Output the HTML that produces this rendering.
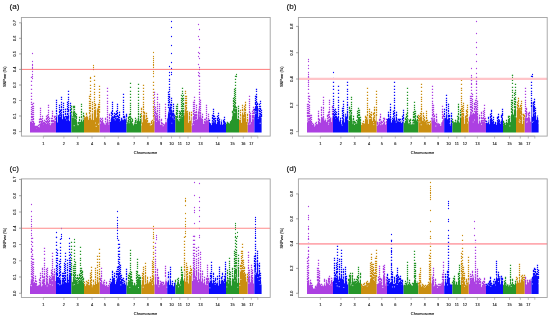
<!DOCTYPE html>
<html lang="en"><head><meta charset="utf-8"><title>Manhattan plots</title>
<style>html,body{margin:0;padding:0;background:#fff;overflow:hidden}svg{display:block}.t{font-family:"Liberation Sans",sans-serif;font-size:39px;fill:#111;stroke:#222;stroke-width:1.2px}.pl{font-family:"Liberation Sans",sans-serif;font-size:81px;fill:#111;stroke:#111;stroke-width:1.5px}</style></head>
<body>
<svg width="550" height="320" viewBox="0 0 550 320">
<rect width="550" height="320" fill="#fff"/>
<g>
<path d="M30,132.5V120.8H30.5V119.8H31V121.8H31.5V120.1H32V121H32.5V120H33V121H33.5V122.1H34V123.6H34.5V124.1H35V127.1H35.5V127.1H36V126.8H36.5V128.3H37V127.1H37.5V127.1H38V127.6H38.5V127.8H39V127.5H39.5V125H40V123.5H40.5V121.9H41V121.1H41.5V121.8H42V121.7H42.5V122.5H43V123H43.5V124.2H44V123.8H44.5V124.1H45V123.4H45.5V123.9H46V123.5H46.5V125H47V121.8H47.5V122.5H48V123.3H48.5V123.2H49V124.2H49.5V123.7H50V122.6H50.5V123.1H51V123.6H51.5V122.5H52V122.4H52.5V122.5H53V122.5H53.5V122.6H54V121.1H54.5V118.6H55V120.7H55.5V120.6H56V132.5ZM99.6,132.5V119.2H100.1V122.4H100.59V122.2H101.09V120.9H101.58V120.5H102.08V119.6H102.57V119.5H103.07V119.7H103.56V121.9H104.06V123.2H104.55V124.4H105.05V124.8H105.54V121.7H106.04V120.7H106.53V118.4H107.03V119.2H107.52V120H108.02V120.6H108.51V119.6H109.01V122.1H109.5V121.1H110V132.5ZM154.4,132.5V116.3H154.89V115.6H155.38V114.7H155.88V116.1H156.37V115.3H156.86V114.6H157.35V115.7H157.85V115H158.34V117.7H158.83V117.8H159.32V119.8H159.82V120.1H160.31V124.1H160.8V124.5H161.29V124.5H161.78V124.1H162.28V124.5H162.77V126.5H163.26V125.4H163.75V124.8H164.25V124.3H164.74V122.8H165.23V122H165.72V118.8H166.22V120H166.71V118.2H167.2V132.5ZM191.6,132.5V118.2H192.1V116.2H192.59V117H193.09V115.9H193.59V115.7H194.09V115.3H194.58V116.1H195.08V115.1H195.58V116.4H196.07V113.7H196.57V116.6H197.07V114.2H197.57V111.9H198.06V111.1H198.56V108.5H199.06V107.8H199.55V110.2H200.05V113.2H200.55V115.7H201.05V115.2H201.54V116.1H202.04V118.8H202.54V118.6H203.03V120.5H203.53V122.4H204.03V122.1H204.53V123.4H205.02V121.6H205.52V120H206.02V120.3H206.51V119.3H207.01V118.3H207.51V119H208.01V118.3H208.5V120.8H209V132.5ZM247.6,132.5V119.8H248.09V119.5H248.57V118H249.06V114.9H249.54V115.1H250.03V115.5H250.51V117.3H251V117H251.49V118.3H251.97V116.6H252.46V118.5H252.94V116.1H253.43V116.2H253.91V114.8H254.4V132.5Z" fill="#ac40e2"/>
<path d="M56,132.5V116.7H56.5V114.2H56.99V114.8H57.49V113.6H57.99V114.7H58.48V115.3H58.98V114.2H59.48V113.2H59.97V114.6H60.47V113.8H60.97V114.2H61.46V113.1H61.96V113.6H62.46V113.9H62.95V114.5H63.45V114.8H63.95V116.2H64.45V116.7H64.94V119H65.44V117H65.94V116.2H66.43V117.1H66.93V116H67.43V115.4H67.92V115.2H68.42V112.6H68.92V113.6H69.41V115.4H69.91V113.9H70.41V114.3H70.9V114.4H71.4V132.5ZM110,132.5V119.1H110.5V119.6H111.01V117.6H111.51V116.1H112.01V116.3H112.52V115.7H113.02V115.8H113.52V118.4H114.02V118.5H114.53V118.5H115.03V117.6H115.53V117H116.04V118.5H116.54V117H117.04V117.9H117.55V117.7H118.05V117.6H118.55V118.5H119.05V118.8H119.56V121.2H120.06V119.8H120.56V119.3H121.07V117.9H121.57V119.1H122.07V119H122.58V118.4H123.08V119.2H123.58V118.6H124.08V118.9H124.59V118.1H125.09V117.3H125.59V116.8H126.1V117.6H126.6V132.5ZM167.2,132.5V116.6H167.71V113.8H168.22V111.8H168.74V108.1H169.25V103.2H169.76V106.9H170.27V104.8H170.79V106.2H171.3V108.2H171.81V109.7H172.32V111.4H172.84V111.5H173.35V115.3H173.86V113.4H174.38V116.2H174.89V116.9H175.4V132.5ZM209,132.5V122.5H209.5V121.5H210V123H210.5V123.6H211V121.4H211.5V121.5H212V120.6H212.5V120.9H213V120.6H213.5V120.5H214V119H214.5V119.1H215V121.6H215.5V122.2H216V122.3H216.5V122.4H217V121.6H217.5V121.6H218V120H218.5V119.6H219V120.1H219.5V120.5H220V120.7H220.5V121.1H221V119.6H221.5V121.8H222V122.2H222.5V123.4H223V120.8H223.5V122.1H224V120.7H224.5V121.7H225V122H225.5V124.2H226V132.5ZM254.4,132.5V109.8H254.91V106.2H255.43V105.7H255.94V105H256.46V105H256.97V106.4H257.49V107H258V108.2H258.51V112.5H259.03V115.5H259.54V113.7H260.06V114.3H260.57V117.3H261.09V117.6H261.6V132.5Z" fill="#0a0afc"/>
<path d="M71.4,132.5V113.4H71.9V112.3H72.41V111.6H72.91V111.8H73.42V108.5H73.92V111.6H74.42V113.3H74.93V114.3H75.43V117.2H75.94V119H76.44V119.7H76.94V121.9H77.45V125.2H77.95V125.3H78.46V124.2H78.96V123.3H79.46V123.1H79.97V121.7H80.47V119.3H80.98V120.1H81.48V118.5H81.98V117.3H82.49V118H82.99V119.9H83.5V117.3H84V132.5ZM126.6,132.5V119.5H127.09V120H127.59V120.3H128.08V119.1H128.57V120.7H129.07V121.5H129.56V120.2H130.05V117H130.55V118.6H131.04V119.8H131.53V119.5H132.03V123.6H132.52V122.6H133.01V123.4H133.51V123.6H134V122.1H134.49V123.7H134.99V123.2H135.48V123.6H135.97V122.4H136.47V119.2H136.96V118.3H137.45V117.5H137.95V117.4H138.44V116.8H138.93V117.7H139.43V119H139.92V120.2H140.41V119.8H140.91V119.9H141.4V132.5ZM175.4,132.5V117.5H175.91V116.1H176.41V115.7H176.92V115.7H177.42V113.9H177.93V115.7H178.44V116.7H178.94V119.1H179.45V118.6H179.95V116.6H180.46V115.7H180.96V115.1H181.47V114H181.98V110.2H182.48V109.1H182.99V111.8H183.49V114.1H184V132.5ZM226,132.5V124H226.5V121.7H227V122.5H227.5V123.1H228V123.2H228.5V124H229V122.7H229.5V121.2H230V121.3H230.5V121H231V119.9H231.5V116.8H232V116.2H232.5V113.1H233V108.3H233.5V107.1H234V105.4H234.5V104.9H235V105.4H235.5V104.3H236V108.3H236.5V109.8H237V112.8H237.5V111.6H238V113.5H238.5V114.1H239V132.5Z" fill="#26962a"/>
<path d="M84,132.5V116.9H84.5V117.4H85.01V117.3H85.51V117H86.01V116.2H86.52V115.3H87.02V117.1H87.52V115.6H88.03V116.8H88.53V116.6H89.03V115.7H89.54V114.3H90.04V115.3H90.54V112.7H91.05V112.5H91.55V113.2H92.05V113.5H92.55V111.9H93.06V112.1H93.56V112.3H94.06V110.5H94.57V110.8H95.07V109.4H95.57V107.8H96.08V110.2H96.58V108.2H97.08V108H97.59V109.4H98.09V107.3H98.59V110.1H99.1V113.4H99.6V132.5ZM141.4,132.5V117.4H141.9V118.5H142.4V116H142.9V113.7H143.4V113.4H143.9V114.4H144.4V114.4H144.9V113.3H145.4V115H145.9V117.2H146.4V118.8H146.9V121.6H147.4V124.1H147.9V123.4H148.4V124H148.9V123.9H149.4V124.1H149.9V125.8H150.4V123H150.9V125.2H151.4V124.7H151.9V124.2H152.4V121.5H152.9V121.3H153.4V117.3H153.9V116.4H154.4V132.5ZM184,132.5V109.1H184.51V106.1H185.01V106H185.52V107.6H186.03V107.2H186.53V109.2H187.04V111.4H187.55V113.8H188.05V115.2H188.56V114.5H189.07V115.3H189.57V115.7H190.08V115.4H190.59V115.2H191.09V116.3H191.6V132.5ZM239,132.5V117H239.51V117.1H240.01V118.2H240.52V116.1H241.02V115.2H241.53V114.7H242.04V112.8H242.54V111.4H243.05V109.7H243.55V110H244.06V110.2H244.56V110.5H245.07V114H245.58V112.9H246.08V117.4H246.59V118.5H247.09V121.1H247.6V132.5Z" fill="#ca8e10"/>
<path d="M30.5,118.3V121.8M32.5,122.2v.7M34.8,124.7v.7M50.5,121.6V125.2M57.5,112.1V122.5M60.2,115.8v1.1M62.5,112.4V119.2M66.8,119.6v.9M68.8,118.8v.7M69.5,113.9V121.1M72.5,110.1V116.2M72.2,116.8v1.1M73.8,116.8v.9M74.2,125.1v1.1M75.2,117.8v1.1M80.5,117.8V121.9M82.5,116.5V121.5M88.5,115.1V119.8M89.2,116.9v.7M90.5,116.7v.9M91.5,111.7V119.7M93.5,110.8V120.1M95.5,122.6v.9M96.5,106.7V117.6M96.8,115.1v.9M96.2,125.9v1.1M98.2,112v.7M98.5,123.7v1.1M99.8,117.1v.7M100.2,122.8v.9M103.5,120.4V122.7M106.5,116.9V122.8M106.8,120.8v.7M108.5,118.1V122.5M108.8,123.5v1.1M110.5,118.1V122M115.2,119.3v1.1M120.5,117.8V121.1M122.8,119v.7M123.2,119.2v.9M125.5,115.3V119.4M126.8,123v.7M127.5,118.8V122.3M129.2,122.2v1.1M131.5,120.1v1.1M133.5,122.1V125.3M136.5,123v.9M137.5,116V119.9M137.5,119.8v1.1M139.5,117.5V121.2M141.5,124.3v1.1M142.5,114.5V122.4M143.2,114v1.1M145.5,113.5V119.2M145.2,118.4v.7M154.2,120v.9M156.5,117.4v.7M156.5,120.9v.9M158.5,116.2V120.2M159.2,120.4v.7M160.5,122.6V124.8M164.5,121.3V123.8M166.5,116.7V122.3M167.5,112.3V118.4M168.2,108.7v1.1M169.5,103.8v.9M169.5,105.8v.9M169.8,111.7v.7M170.5,115.6v.7M171.2,108.8v.7M171.8,122.8v.7M172.8,112v.9M172.8,116.4v1.1M173.2,117.6v.7M174.2,118.8v.7M177.5,117.9v1.1M178.5,115.2V120.5M179.2,120.4v.9M180.8,117.7v.7M182.2,116.2v.7M184.5,104.6V113.6M184.2,114.3v1.1M185.2,108.2v.9M186.5,109.8v.9M188.5,113V122.8M189.2,119.9v1.1M190.5,113.7V120.7M190.8,115.8v.9M191.8,124.7v.9M192.5,115.5V123.4M192.5,120.2v.7M193.2,124v.9M194.2,119.9v1.1M196.2,119.1v.9M197.5,110.4V119.3M199.2,110.8v1.1M199.2,113.6v1.1M199.8,115.5v.9M201.5,114.6V118.3M203.5,120.9V123.9M207.5,117.5V120.6M211.5,120V125.1M211.8,122.1v.7M212.8,121.5v.9M214.8,119.7v.9M214.5,121.5v.7M216.5,120.9V124.1M220.5,119.6V124.6M222.5,121.9V124.9M223.2,122.7v1.1M226.5,120.2V123.5M229.5,119.7V123.6M231.5,115.3V119M231.2,117.4v.7M231.2,118.8v.9M233.8,111.3v1.1M234.8,111.9v1.1M235.2,108v1.1M237.5,110.1V118.9M238.5,114.7v1.1M238.5,117.9v.9M239.5,115.6V120M239.5,117.7v.9M240.5,119.3v.7M241.5,113.2V122.4M241.5,121.8v.9M243.5,108.5V114.7M244.5,111.1v1.1M244.2,117.2v.9M246.5,117V121.7M246.5,120.8v.7M247.8,123.7v.9M248.5,116.5V122.6M249.8,123.5v1.1M250.5,122.6v.9M251.5,116.8V121.4M251.5,120.9v.9M253.2,118.2v1.1M254.5,114v1.1M254.5,115.7v.7M255.8,111v1.1M255.8,112.8v.9M258.5,111V117.2M258.2,117.9v.9M260.2,122.8v1.1" stroke="#fff" stroke-width="0.72" fill="none"/>
<path d="M32.5,53.5h0M32.5,61.5h0M32.5,64.5h0M32.5,65.5h0M32.5,67.5h0M32.5,68.5h0M32.5,71.5h0M32.5,74.5h0M32.5,76.5h0M32.5,78.5h0M198.5,24.5h0M198.5,36.5h0M198.5,52.5h0M198.5,56.5h0M198.5,64.5h0M198.5,72.5h0M198.5,75.5h0M199.5,29.5h0M199.5,39.5h0M199.5,47.5h0M199.5,53.5h0M199.5,58.5h0M199.5,67.5h0M199.5,69.5h0M199.5,73.5h0M199.5,76.5h0" stroke="#ac40e2" stroke-width="1.28" stroke-linecap="round" fill="none"/>
<path d="M31.5,120v-1.35M31.5,118v-1.35M31.5,117v-1.35M31.5,115v-1.35M31.5,114v-1.35M31.5,112v-1.35M31.5,110v-1.35M31.5,108v-1.35M31.5,105v-1.35M31.5,103v-1.35M31.5,100v-1.35M31.5,97v-1.35M31.5,94v-1.35M31.5,90v-1.35M31.5,86v-1.35M31.5,82v-1.35M31.5,78v-1.35M32.5,120v-1.35M32.5,118v-1.35M32.5,117v-1.35M32.5,115v-1.35M32.5,113v-1.35M32.5,111v-1.35M32.5,109v-1.35M32.5,107v-1.35M32.5,105v-1.35M33.5,122v-1.35M33.5,120v-1.35M33.5,119v-1.35M33.5,117v-1.35M33.5,115v-1.35M33.5,113v-1.35M33.5,111v-1.35M33.5,109v-1.35M33.5,107v-1.35M33.5,104v-1.35M34.5,124v-1.35M35.5,127v-1.35M36.5,128v-1.35M36.5,127v-1.35M37.5,127v-1.35M38.5,128v-1.35M38.5,126v-1.35M39.5,125v-1.35M39.5,123v-1.35M39.5,122v-1.35M39.5,120v-1.35M40.5,122v-1.35M40.5,120v-1.35M40.5,119v-1.35M40.5,117v-1.35M40.5,115v-1.35M40.5,113v-1.35M40.5,111v-1.35M40.5,109v-1.35M41.5,122v-1.35M41.5,120v-1.35M42.5,122v-1.35M42.5,121v-1.35M42.5,119v-1.35M42.5,117v-1.35M43.5,124v-1.35M43.5,123v-1.35M44.5,124v-1.35M44.5,123v-1.35M44.5,121v-1.35M45.5,124v-1.35M45.5,122v-1.35M46.5,125v-1.35M46.5,123v-1.35M46.5,122v-1.35M46.5,120v-1.35M46.5,119v-1.35M46.5,117v-1.35M47.5,122v-1.35M47.5,121v-1.35M47.5,119v-1.35M47.5,118v-1.35M47.5,116v-1.35M48.5,123v-1.35M48.5,122v-1.35M48.5,120v-1.35M48.5,118v-1.35M48.5,117v-1.35M48.5,115v-1.35M48.5,113v-1.35M48.5,111v-1.35M48.5,108v-1.35M48.5,106v-1.35M49.5,124v-1.35M49.5,122v-1.35M49.5,121v-1.35M49.5,119v-1.35M51.5,122v-1.35M51.5,121v-1.35M51.5,119v-1.35M52.5,122v-1.35M52.5,121v-1.35M52.5,119v-1.35M52.5,117v-1.35M52.5,116v-1.35M52.5,114v-1.35M52.5,112v-1.35M53.5,122v-1.35M53.5,121v-1.35M54.5,118v-1.35M54.5,117v-1.35M55.5,120v-1.35M55.5,119v-1.35M55.5,117v-1.35M100.5,122v-1.35M100.5,121v-1.35M100.5,119v-1.35M101.5,120v-1.35M102.5,119v-1.35M105.5,122v-1.35M105.5,120v-1.35M105.5,119v-1.35M107.5,120v-1.35M107.5,118v-1.35M107.5,117v-1.35M107.5,115v-1.35M107.5,113v-1.35M107.5,111v-1.35M107.5,109v-1.35M107.5,107v-1.35M107.5,104v-1.35M107.5,102v-1.35M107.5,99v-1.35M107.5,96v-1.35M107.5,92v-1.35M107.5,89v-1.35M109.5,121v-1.35M109.5,119v-1.35M109.5,118v-1.35M109.5,116v-1.35M109.5,115v-1.35M154.5,116v-1.35M154.5,115v-1.35M154.5,113v-1.35M154.5,111v-1.35M154.5,109v-1.35M154.5,107v-1.35M154.5,105v-1.35M154.5,103v-1.35M154.5,101v-1.35M154.5,98v-1.35M154.5,95v-1.35M154.5,93v-1.35M155.5,114v-1.35M155.5,113v-1.35M155.5,112v-1.35M155.5,110v-1.35M155.5,108v-1.35M156.5,115v-1.35M156.5,114v-1.35M157.5,116v-1.35M157.5,114v-1.35M157.5,112v-1.35M157.5,111v-1.35M157.5,109v-1.35M157.5,107v-1.35M157.5,105v-1.35M157.5,103v-1.35M157.5,100v-1.35M157.5,98v-1.35M157.5,95v-1.35M159.5,120v-1.35M159.5,118v-1.35M159.5,117v-1.35M159.5,115v-1.35M159.5,113v-1.35M159.5,111v-1.35M159.5,109v-1.35M159.5,107v-1.35M159.5,105v-1.35M161.5,124v-1.35M161.5,123v-1.35M161.5,121v-1.35M161.5,120v-1.35M162.5,124v-1.35M163.5,125v-1.35M165.5,119v-1.35M165.5,117v-1.35M165.5,116v-1.35M165.5,114v-1.35M165.5,112v-1.35M165.5,110v-1.35M165.5,108v-1.35M165.5,105v-1.35M193.5,115v-1.35M193.5,114v-1.35M193.5,112v-1.35M193.5,111v-1.35M193.5,109v-1.35M193.5,107v-1.35M193.5,105v-1.35M193.5,103v-1.35M194.5,116v-1.35M194.5,115v-1.35M194.5,113v-1.35M194.5,111v-1.35M194.5,109v-1.35M194.5,107v-1.35M194.5,105v-1.35M194.5,103v-1.35M194.5,101v-1.35M194.5,98v-1.35M195.5,116v-1.35M195.5,115v-1.35M195.5,113v-1.35M196.5,116v-1.35M196.5,115v-1.35M196.5,113v-1.35M196.5,112v-1.35M196.5,110v-1.35M196.5,108v-1.35M196.5,106v-1.35M199.5,110v-1.35M199.5,108v-1.35M199.5,107v-1.35M199.5,105v-1.35M199.5,104v-1.35M199.5,102v-1.35M199.5,100v-1.35M199.5,98v-1.35M199.5,95v-1.35M199.5,93v-1.35M199.5,90v-1.35M199.5,87v-1.35M199.5,84v-1.35M199.5,81v-1.35M199.5,77v-1.35M200.5,116v-1.35M200.5,114v-1.35M200.5,113v-1.35M200.5,111v-1.35M200.5,109v-1.35M200.5,107v-1.35M200.5,105v-1.35M200.5,103v-1.35M200.5,101v-1.35M202.5,118v-1.35M202.5,117v-1.35M202.5,115v-1.35M204.5,123v-1.35M204.5,122v-1.35M204.5,120v-1.35M205.5,120v-1.35M206.5,119v-1.35M206.5,118v-1.35M206.5,116v-1.35M206.5,114v-1.35M206.5,112v-1.35M206.5,110v-1.35M206.5,108v-1.35M206.5,106v-1.35M208.5,121v-1.35M208.5,119v-1.35M208.5,117v-1.35M208.5,115v-1.35M249.5,115v-1.35M249.5,113v-1.35M249.5,112v-1.35M249.5,110v-1.35M249.5,108v-1.35M249.5,106v-1.35M249.5,104v-1.35M249.5,102v-1.35M249.5,100v-1.35M249.5,97v-1.35M250.5,117v-1.35M250.5,116v-1.35M250.5,114v-1.35M252.5,118v-1.35M252.5,117v-1.35M252.5,116v-1.35M252.5,114v-1.35M252.5,112v-1.35M253.5,116v-1.35M253.5,114v-1.35M253.5,113v-1.35M253.5,111v-1.35M253.5,110v-1.35M253.5,108v-1.35" stroke="#ac40e2" stroke-width="1.25" fill="none"/>
<path d="M171.5,21.5h0M171.5,27.5h0M171.5,36.5h0M171.5,45.5h0M171.5,53.5h0M171.5,62.5h0M171.5,68.5h0M171.5,72.5h0M171.5,74.5h0M169.5,66.5h0M169.5,72.5h0M169.5,75.5h0" stroke="#0a0afc" stroke-width="1.28" stroke-linecap="round" fill="none"/>
<path d="M56.5,114v-1.35M56.5,112v-1.35M56.5,111v-1.35M56.5,109v-1.35M56.5,107v-1.35M56.5,105v-1.35M56.5,103v-1.35M56.5,101v-1.35M59.5,113v-1.35M59.5,112v-1.35M59.5,110v-1.35M59.5,108v-1.35M59.5,106v-1.35M60.5,114v-1.35M60.5,112v-1.35M60.5,111v-1.35M61.5,113v-1.35M61.5,111v-1.35M61.5,110v-1.35M61.5,108v-1.35M61.5,107v-1.35M61.5,105v-1.35M61.5,103v-1.35M61.5,100v-1.35M61.5,98v-1.35M63.5,115v-1.35M63.5,113v-1.35M63.5,112v-1.35M63.5,110v-1.35M63.5,108v-1.35M63.5,106v-1.35M63.5,104v-1.35M65.5,117v-1.35M65.5,115v-1.35M65.5,114v-1.35M65.5,112v-1.35M65.5,110v-1.35M66.5,117v-1.35M67.5,115v-1.35M67.5,114v-1.35M67.5,112v-1.35M67.5,110v-1.35M67.5,109v-1.35M67.5,107v-1.35M67.5,105v-1.35M67.5,103v-1.35M68.5,112v-1.35M68.5,111v-1.35M68.5,110v-1.35M68.5,108v-1.35M68.5,106v-1.35M68.5,104v-1.35M68.5,102v-1.35M68.5,100v-1.35M68.5,98v-1.35M68.5,95v-1.35M68.5,92v-1.35M70.5,114v-1.35M70.5,113v-1.35M70.5,111v-1.35M70.5,110v-1.35M70.5,108v-1.35M70.5,106v-1.35M70.5,104v-1.35M111.5,116v-1.35M111.5,114v-1.35M111.5,113v-1.35M112.5,115v-1.35M112.5,114v-1.35M112.5,112v-1.35M112.5,111v-1.35M112.5,109v-1.35M112.5,107v-1.35M112.5,105v-1.35M112.5,103v-1.35M113.5,118v-1.35M114.5,118v-1.35M114.5,117v-1.35M114.5,116v-1.35M114.5,114v-1.35M115.5,117v-1.35M115.5,115v-1.35M116.5,117v-1.35M116.5,115v-1.35M116.5,114v-1.35M116.5,112v-1.35M117.5,117v-1.35M117.5,116v-1.35M117.5,114v-1.35M117.5,113v-1.35M117.5,111v-1.35M117.5,109v-1.35M117.5,107v-1.35M117.5,105v-1.35M118.5,118v-1.35M118.5,117v-1.35M119.5,121v-1.35M119.5,120v-1.35M119.5,118v-1.35M119.5,116v-1.35M119.5,115v-1.35M119.5,113v-1.35M121.5,119v-1.35M123.5,118v-1.35M123.5,117v-1.35M123.5,115v-1.35M123.5,113v-1.35M123.5,112v-1.35M123.5,110v-1.35M123.5,108v-1.35M123.5,106v-1.35M123.5,103v-1.35M123.5,101v-1.35M123.5,98v-1.35M123.5,95v-1.35M124.5,118v-1.35M124.5,117v-1.35M126.5,117v-1.35M126.5,116v-1.35M126.5,115v-1.35M168.5,108v-1.35M168.5,106v-1.35M168.5,105v-1.35M168.5,103v-1.35M168.5,101v-1.35M168.5,99v-1.35M168.5,97v-1.35M168.5,95v-1.35M168.5,93v-1.35M169.5,103v-1.35M169.5,102v-1.35M169.5,100v-1.35M169.5,98v-1.35M169.5,97v-1.35M169.5,95v-1.35M169.5,92v-1.35M169.5,90v-1.35M169.5,88v-1.35M169.5,85v-1.35M169.5,82v-1.35M169.5,80v-1.35M170.5,105v-1.35M171.5,108v-1.35M171.5,106v-1.35M171.5,105v-1.35M171.5,103v-1.35M171.5,101v-1.35M171.5,99v-1.35M173.5,115v-1.35M173.5,114v-1.35M173.5,112v-1.35M173.5,111v-1.35M173.5,109v-1.35M173.5,107v-1.35M173.5,105v-1.35M174.5,116v-1.35M209.5,121v-1.35M212.5,121v-1.35M212.5,119v-1.35M212.5,118v-1.35M212.5,116v-1.35M213.5,120v-1.35M213.5,119v-1.35M213.5,117v-1.35M213.5,116v-1.35M213.5,114v-1.35M213.5,112v-1.35M213.5,110v-1.35M214.5,119v-1.35M214.5,117v-1.35M215.5,122v-1.35M215.5,121v-1.35M215.5,119v-1.35M217.5,121v-1.35M217.5,120v-1.35M217.5,119v-1.35M217.5,117v-1.35M218.5,119v-1.35M218.5,118v-1.35M218.5,116v-1.35M218.5,114v-1.35M219.5,120v-1.35M223.5,122v-1.35M223.5,121v-1.35M224.5,122v-1.35M224.5,120v-1.35M224.5,118v-1.35M225.5,124v-1.35M254.5,110v-1.35M255.5,105v-1.35M255.5,104v-1.35M255.5,103v-1.35M255.5,101v-1.35M255.5,99v-1.35M255.5,97v-1.35M256.5,105v-1.35M256.5,103v-1.35M256.5,102v-1.35M256.5,100v-1.35M256.5,98v-1.35M256.5,97v-1.35M256.5,95v-1.35M256.5,92v-1.35M256.5,90v-1.35M257.5,107v-1.35M257.5,105v-1.35M257.5,104v-1.35M259.5,114v-1.35M259.5,112v-1.35M259.5,111v-1.35M259.5,109v-1.35M259.5,107v-1.35M259.5,105v-1.35M260.5,117v-1.35M260.5,115v-1.35M260.5,114v-1.35M260.5,112v-1.35M260.5,110v-1.35M260.5,109v-1.35M260.5,107v-1.35M260.5,104v-1.35M260.5,102v-1.35M261.5,117v-1.35M261.5,116v-1.35M261.5,115v-1.35M261.5,113v-1.35M261.5,111v-1.35" stroke="#0a0afc" stroke-width="1.25" fill="none"/>
<path d="M236.5,74.5h0M236.5,76.5h0" stroke="#26962a" stroke-width="1.28" stroke-linecap="round" fill="none"/>
<path d="M71.5,113v-1.35M71.5,112v-1.35M71.5,110v-1.35M71.5,109v-1.35M71.5,107v-1.35M73.5,108v-1.35M73.5,107v-1.35M74.5,113v-1.35M74.5,112v-1.35M74.5,110v-1.35M74.5,108v-1.35M74.5,107v-1.35M75.5,117v-1.35M75.5,116v-1.35M75.5,114v-1.35M76.5,119v-1.35M76.5,118v-1.35M76.5,117v-1.35M76.5,115v-1.35M78.5,124v-1.35M78.5,123v-1.35M79.5,123v-1.35M79.5,121v-1.35M79.5,120v-1.35M79.5,118v-1.35M81.5,118v-1.35M81.5,117v-1.35M81.5,115v-1.35M81.5,113v-1.35M81.5,112v-1.35M81.5,110v-1.35M81.5,107v-1.35M81.5,105v-1.35M83.5,117v-1.35M83.5,116v-1.35M83.5,114v-1.35M128.5,121v-1.35M128.5,119v-1.35M128.5,118v-1.35M129.5,120v-1.35M129.5,118v-1.35M129.5,117v-1.35M129.5,115v-1.35M130.5,118v-1.35M130.5,117v-1.35M130.5,115v-1.35M130.5,114v-1.35M130.5,112v-1.35M130.5,110v-1.35M130.5,108v-1.35M130.5,106v-1.35M130.5,104v-1.35M130.5,101v-1.35M130.5,98v-1.35M130.5,95v-1.35M130.5,92v-1.35M130.5,88v-1.35M130.5,84v-1.35M131.5,119v-1.35M132.5,122v-1.35M132.5,121v-1.35M132.5,120v-1.35M135.5,123v-1.35M135.5,122v-1.35M135.5,121v-1.35M135.5,119v-1.35M138.5,117v-1.35M138.5,115v-1.35M138.5,114v-1.35M138.5,112v-1.35M138.5,110v-1.35M138.5,108v-1.35M138.5,106v-1.35M138.5,104v-1.35M138.5,101v-1.35M138.5,98v-1.35M138.5,95v-1.35M138.5,92v-1.35M138.5,89v-1.35M138.5,85v-1.35M140.5,120v-1.35M140.5,118v-1.35M140.5,117v-1.35M140.5,115v-1.35M175.5,117v-1.35M176.5,115v-1.35M176.5,114v-1.35M176.5,113v-1.35M176.5,111v-1.35M176.5,109v-1.35M176.5,107v-1.35M177.5,114v-1.35M177.5,112v-1.35M177.5,111v-1.35M177.5,109v-1.35M177.5,107v-1.35M177.5,105v-1.35M179.5,118v-1.35M179.5,117v-1.35M179.5,116v-1.35M179.5,114v-1.35M179.5,112v-1.35M180.5,115v-1.35M180.5,114v-1.35M180.5,113v-1.35M181.5,114v-1.35M181.5,112v-1.35M181.5,111v-1.35M181.5,109v-1.35M181.5,107v-1.35M181.5,105v-1.35M181.5,103v-1.35M181.5,101v-1.35M181.5,99v-1.35M181.5,96v-1.35M182.5,109v-1.35M182.5,107v-1.35M182.5,106v-1.35M182.5,104v-1.35M182.5,102v-1.35M182.5,100v-1.35M182.5,99v-1.35M182.5,97v-1.35M182.5,94v-1.35M182.5,92v-1.35M182.5,89v-1.35M183.5,114v-1.35M183.5,112v-1.35M183.5,111v-1.35M183.5,109v-1.35M183.5,107v-1.35M183.5,105v-1.35M183.5,104v-1.35M183.5,101v-1.35M183.5,99v-1.35M183.5,96v-1.35M227.5,123v-1.35M228.5,124v-1.35M232.5,113v-1.35M232.5,112v-1.35M233.5,107v-1.35M233.5,106v-1.35M233.5,104v-1.35M233.5,102v-1.35M233.5,101v-1.35M233.5,99v-1.35M234.5,105v-1.35M234.5,103v-1.35M234.5,102v-1.35M234.5,100v-1.35M234.5,98v-1.35M234.5,96v-1.35M234.5,94v-1.35M234.5,92v-1.35M234.5,90v-1.35M235.5,104v-1.35M235.5,103v-1.35M235.5,101v-1.35M235.5,99v-1.35M235.5,97v-1.35M235.5,95v-1.35M235.5,93v-1.35M235.5,91v-1.35M235.5,89v-1.35M235.5,86v-1.35M235.5,83v-1.35M235.5,80v-1.35M235.5,77v-1.35M236.5,110v-1.35M236.5,108v-1.35M238.5,114v-1.35M238.5,112v-1.35M238.5,111v-1.35M238.5,109v-1.35M238.5,107v-1.35" stroke="#26962a" stroke-width="1.25" fill="none"/>
<path d="M93.5,65.5h0M93.5,67.5h0M93.5,69.5h0M90.5,77.5h0M153.5,52.5h0M153.5,56.5h0M153.5,58.5h0M153.5,60.5h0M153.5,62.5h0M153.5,64.5h0M153.5,65.5h0M153.5,67.5h0M153.5,71.5h0M153.5,73.5h0M153.5,76.5h0" stroke="#ca8e10" stroke-width="1.28" stroke-linecap="round" fill="none"/>
<path d="M84.5,117v-1.35M86.5,115v-1.35M86.5,114v-1.35M89.5,114v-1.35M89.5,113v-1.35M89.5,111v-1.35M89.5,109v-1.35M89.5,108v-1.35M89.5,106v-1.35M89.5,104v-1.35M89.5,102v-1.35M89.5,99v-1.35M89.5,97v-1.35M90.5,112v-1.35M90.5,111v-1.35M90.5,109v-1.35M90.5,108v-1.35M90.5,106v-1.35M90.5,104v-1.35M90.5,102v-1.35M90.5,100v-1.35M90.5,97v-1.35M90.5,95v-1.35M90.5,92v-1.35M90.5,89v-1.35M90.5,86v-1.35M90.5,82v-1.35M90.5,79v-1.35M92.5,112v-1.35M92.5,110v-1.35M92.5,109v-1.35M92.5,107v-1.35M92.5,105v-1.35M92.5,103v-1.35M94.5,111v-1.35M94.5,109v-1.35M94.5,108v-1.35M94.5,106v-1.35M94.5,104v-1.35M94.5,102v-1.35M94.5,100v-1.35M94.5,98v-1.35M94.5,95v-1.35M94.5,93v-1.35M94.5,90v-1.35M94.5,87v-1.35M94.5,85v-1.35M94.5,81v-1.35M94.5,77v-1.35M95.5,108v-1.35M95.5,106v-1.35M95.5,105v-1.35M98.5,110v-1.35M98.5,108v-1.35M98.5,107v-1.35M98.5,105v-1.35M99.5,113v-1.35M99.5,112v-1.35M99.5,110v-1.35M99.5,108v-1.35M99.5,107v-1.35M99.5,105v-1.35M99.5,103v-1.35M99.5,101v-1.35M99.5,98v-1.35M99.5,96v-1.35M99.5,93v-1.35M99.5,90v-1.35M99.5,87v-1.35M141.5,117v-1.35M141.5,116v-1.35M141.5,114v-1.35M141.5,112v-1.35M141.5,110v-1.35M141.5,109v-1.35M143.5,113v-1.35M143.5,112v-1.35M143.5,110v-1.35M143.5,108v-1.35M143.5,107v-1.35M143.5,105v-1.35M143.5,103v-1.35M143.5,100v-1.35M143.5,98v-1.35M143.5,95v-1.35M143.5,92v-1.35M143.5,89v-1.35M143.5,86v-1.35M144.5,114v-1.35M144.5,113v-1.35M146.5,119v-1.35M146.5,117v-1.35M146.5,116v-1.35M146.5,114v-1.35M147.5,124v-1.35M147.5,122v-1.35M147.5,121v-1.35M147.5,119v-1.35M148.5,124v-1.35M149.5,124v-1.35M151.5,124v-1.35M151.5,123v-1.35M151.5,122v-1.35M152.5,121v-1.35M153.5,117v-1.35M153.5,116v-1.35M153.5,114v-1.35M153.5,112v-1.35M153.5,110v-1.35M153.5,108v-1.35M153.5,107v-1.35M153.5,104v-1.35M153.5,102v-1.35M153.5,99v-1.35M153.5,96v-1.35M153.5,93v-1.35M153.5,90v-1.35M153.5,86v-1.35M153.5,83v-1.35M185.5,107v-1.35M185.5,106v-1.35M185.5,104v-1.35M185.5,103v-1.35M185.5,101v-1.35M185.5,99v-1.35M185.5,97v-1.35M185.5,94v-1.35M185.5,92v-1.35M186.5,109v-1.35M186.5,108v-1.35M186.5,106v-1.35M186.5,104v-1.35M186.5,103v-1.35M186.5,101v-1.35M186.5,99v-1.35M186.5,97v-1.35M187.5,114v-1.35M187.5,112v-1.35M189.5,115v-1.35M189.5,114v-1.35M189.5,113v-1.35M191.5,116v-1.35M191.5,115v-1.35M191.5,113v-1.35M240.5,116v-1.35M240.5,115v-1.35M240.5,113v-1.35M240.5,111v-1.35M242.5,111v-1.35M242.5,110v-1.35M242.5,108v-1.35M242.5,106v-1.35M244.5,110v-1.35M244.5,109v-1.35M244.5,107v-1.35M245.5,113v-1.35M245.5,111v-1.35M245.5,110v-1.35M245.5,108v-1.35M245.5,106v-1.35M245.5,105v-1.35M245.5,103v-1.35M247.5,121v-1.35M247.5,120v-1.35M247.5,118v-1.35M247.5,116v-1.35M247.5,115v-1.35" stroke="#ca8e10" stroke-width="1.25" fill="none"/>
<line x1="21.4" y1="69.4" x2="270.2" y2="69.4" stroke="#ff5a5a" stroke-width="0.8"/>
<rect x="21.4" y="17.45" width="248.8" height="118.65" fill="none" stroke="#a2a2a2" stroke-width="0.9"/>
<text transform="translate(15.9,131.6) rotate(-90) scale(.1)" text-anchor="middle" class="t">0.0</text>
<text transform="translate(15.9,116) rotate(-90) scale(.1)" text-anchor="middle" class="t">0.1</text>
<text transform="translate(15.9,100.5) rotate(-90) scale(.1)" text-anchor="middle" class="t">0.2</text>
<text transform="translate(15.9,85) rotate(-90) scale(.1)" text-anchor="middle" class="t">0.3</text>
<text transform="translate(15.9,69.4) rotate(-90) scale(.1)" text-anchor="middle" class="t">0.4</text>
<text transform="translate(15.9,53.9) rotate(-90) scale(.1)" text-anchor="middle" class="t">0.5</text>
<text transform="translate(15.9,38.3) rotate(-90) scale(.1)" text-anchor="middle" class="t">0.6</text>
<text transform="translate(15.9,22.8) rotate(-90) scale(.1)" text-anchor="middle" class="t">0.7</text>
<path d="M21.4,131.6h-2.4M21.4,116h-2.4M21.4,100.5h-2.4M21.4,85h-2.4M21.4,69.4h-2.4M21.4,53.9h-2.4M21.4,38.3h-2.4M21.4,22.8h-2.4M21.4,22.8V131.6" stroke="#707070" stroke-width="0.6" fill="none"/>
<text transform="translate(43.4,144.7) scale(.1)" text-anchor="middle" class="t">1</text>
<text transform="translate(63.9,144.7) scale(.1)" text-anchor="middle" class="t">2</text>
<text transform="translate(77.6,144.7) scale(.1)" text-anchor="middle" class="t">3</text>
<text transform="translate(92,144.7) scale(.1)" text-anchor="middle" class="t">4</text>
<text transform="translate(104.8,144.7) scale(.1)" text-anchor="middle" class="t">5</text>
<text transform="translate(118.3,144.7) scale(.1)" text-anchor="middle" class="t">6</text>
<text transform="translate(134.1,144.7) scale(.1)" text-anchor="middle" class="t">7</text>
<text transform="translate(147.8,144.7) scale(.1)" text-anchor="middle" class="t">8</text>
<text transform="translate(161.2,144.7) scale(.1)" text-anchor="middle" class="t">9</text>
<text transform="translate(171.5,144.7) scale(.1)" text-anchor="middle" class="t">10</text>
<text transform="translate(179.8,144.7) scale(.1)" text-anchor="middle" class="t">11</text>
<text transform="translate(188,144.7) scale(.1)" text-anchor="middle" class="t">12</text>
<text transform="translate(200.4,144.7) scale(.1)" text-anchor="middle" class="t">13</text>
<text transform="translate(217.6,144.7) scale(.1)" text-anchor="middle" class="t">14</text>
<text transform="translate(232.5,144.7) scale(.1)" text-anchor="middle" class="t">15</text>
<text transform="translate(243.3,144.7) scale(.1)" text-anchor="middle" class="t">16</text>
<text transform="translate(251.3,144.7) scale(.1)" text-anchor="middle" class="t">17</text>
<path d="M43.4,136.1v2.4M63.9,136.1v2.4M77.6,136.1v2.4M92,136.1v2.4M104.8,136.1v2.4M118.3,136.1v2.4M134.1,136.1v2.4M147.8,136.1v2.4M161.2,136.1v2.4M171.5,136.1v2.4M179.8,136.1v2.4M188,136.1v2.4M200.4,136.1v2.4M217.6,136.1v2.4M232.5,136.1v2.4M243.3,136.1v2.4M251.3,136.1v2.4M257.8,136.1v2.4M43.4,136.1H257.8" stroke="#8c8c8c" stroke-width="0.55" fill="none"/>
<text transform="translate(145.5,153.6) scale(.1)" text-anchor="middle" class="t">Chromosome</text>
<text transform="translate(6.1,76.8) rotate(-90) scale(.1)" text-anchor="middle" class="t">SNPvar (%)</text>
<text transform="translate(9.6,9.1) scale(.1)" class="pl">(a)</text>
</g>
<g>
<path d="M307,132.5V118.7H307.5V117.5H308V118.5H308.5V117.4H309V119.6H309.5V120.4H310V119.8H310.5V119.3H311V121.7H311.5V123.2H312V124.5H312.5V124.6H313V125H313.5V125H314V125.7H314.5V123.8H315V125.6H315.5V123.8H316V123.9H316.5V123.3H317V123.9H317.5V123.1H318V120.8H318.5V122H319V121.9H319.5V121.3H320V120.8H320.5V119.3H321V118H321.5V118.1H322V117.8H322.5V116.7H323V116.9H323.5V118.2H324V118.6H324.5V117.7H325V118.4H325.5V120.1H326V119.6H326.5V120.5H327V120.4H327.5V119.3H328V120.1H328.5V117.9H329V118.6H329.5V118.7H330V117.7H330.5V117.6H331V117.3H331.5V117.3H332V117.4H332.5V115.2H333V132.5ZM376.6,132.5V121H377.1V123.7H377.59V124.1H378.09V124.8H378.58V122.5H379.08V123.3H379.57V123H380.07V122.4H380.56V120.1H381.06V121H381.55V123.4H382.05V124.7H382.54V123.4H383.04V123.4H383.53V122.4H384.03V121.9H384.52V120.3H385.02V122H385.51V123.8H386.01V122.4H386.5V123.5H387V132.5ZM431.4,132.5V119.1H431.89V118.1H432.38V116.4H432.88V119.1H433.37V117.2H433.86V118.5H434.35V118.8H434.85V120.2H435.34V119.4H435.83V119.3H436.32V120.1H436.82V119.5H437.31V123.4H437.8V122.8H438.29V122.9H438.78V123.9H439.28V125H439.77V124.1H440.26V126.1H440.75V125.8H441.25V122.6H441.74V121.9H442.23V120.5H442.72V119.7H443.22V118.2H443.71V117.4H444.2V132.5ZM468.6,132.5V117.1H469.1V114.3H469.59V113.7H470.09V111.6H470.59V109.7H471.09V111.8H471.58V111.4H472.08V114.3H472.58V112.5H473.07V113.2H473.57V114H474.07V113.9H474.57V111.8H475.06V110.9H475.56V108.3H476.06V109.1H476.55V111.8H477.05V114.8H477.55V116.8H478.05V117.7H478.54V119.1H479.04V119.7H479.54V119.4H480.03V120.7H480.53V120.7H481.03V120.9H481.53V120.8H482.02V121.2H482.52V121.2H483.02V121.5H483.51V120.8H484.01V119.6H484.51V121.6H485.01V122.5H485.5V122.7H486V132.5ZM524.6,132.5V118.6H525.09V116.4H525.57V114.1H526.06V111.8H526.54V111.8H527.03V112.1H527.51V111.7H528V113.3H528.49V115.2H528.97V115H529.46V115.7H529.94V118.3H530.43V118.6H530.91V115.8H531.4V132.5Z" fill="#ac40e2"/>
<path d="M333,132.5V114.7H333.5V116.8H333.99V115H334.49V118H334.99V115.5H335.48V118.4H335.98V117.6H336.48V118.1H336.97V117.3H337.47V117.4H337.97V116.8H338.46V118.3H338.96V120.3H339.46V119.2H339.95V118.9H340.45V120.7H340.95V119.9H341.45V121.8H341.94V120.4H342.44V119.2H342.94V117.9H343.43V117.6H343.93V116.5H344.43V115.7H344.92V113.6H345.42V114.3H345.92V113H346.41V113.6H346.91V111.2H347.41V113.3H347.9V114.6H348.4V132.5ZM387,132.5V120.1H387.5V119.8H388.01V117.4H388.51V117.7H389.01V116.6H389.52V115.4H390.02V116.7H390.52V118.4H391.02V119.1H391.53V121.3H392.03V120.1H392.53V118.8H393.04V118.6H393.54V117.1H394.04V117.5H394.55V115.9H395.05V115.3H395.55V115.4H396.05V116.6H396.56V116.4H397.06V118.5H397.56V118.1H398.07V120.7H398.57V120.1H399.07V121.4H399.58V122.7H400.08V121.4H400.58V120.5H401.08V119.8H401.59V120.1H402.09V122.1H402.59V120.5H403.1V121.2H403.6V132.5ZM444.2,132.5V118.3H444.71V117H445.22V115.3H445.74V115.1H446.25V113H446.76V113.7H447.27V114H447.79V115.8H448.3V117.6H448.81V118.9H449.32V120.3H449.84V119.7H450.35V120.5H450.86V119.7H451.37V122.2H451.89V122.9H452.4V132.5ZM486,132.5V122.7H486.5V122.4H487V122.5H487.5V121.6H488V122.2H488.5V119.4H489V119.8H489.5V119H490V119.1H490.5V118H491V118H491.5V119H492V121.1H492.5V122.7H493V121.7H493.5V123.3H494V122.1H494.5V122.8H495V121.7H495.5V122.1H496V122.3H496.5V121.9H497V120.8H497.5V121H498V120.4H498.5V120.1H499V119.5H499.5V122.5H500V121.5H500.5V120.9H501V120.8H501.5V118.6H502V118.1H502.5V116.6H503V132.5ZM531.4,132.5V107.2H531.91V103.3H532.43V101.9H532.94V102H533.46V104.7H533.97V106.8H534.49V108.3H535V112.8H535.51V114.3H536.03V115.8H536.54V116.2H537.06V117.2H537.57V114.9H538.09V117.7H538.6V132.5Z" fill="#0a0afc"/>
<path d="M348.4,132.5V113.5H348.9V115.3H349.41V112.7H349.91V115.3H350.42V112.5H350.92V114H351.42V115.9H351.93V118.2H352.43V119H352.94V120.4H353.44V122.1H353.94V122.3H354.45V123.2H354.95V123.5H355.46V122.7H355.96V123.4H356.46V121.7H356.97V120.8H357.47V118.7H357.98V117.7H358.48V117.8H358.98V117.8H359.49V117.7H359.99V119.5H360.5V121.5H361V132.5ZM403.6,132.5V121.7H404.09V121.7H404.59V121.2H405.08V120.8H405.57V120.5H406.07V119.4H406.56V119.9H407.05V118.4H407.55V118.9H408.04V119.1H408.53V121.7H409.03V122.9H409.52V122.3H410.01V121.8H410.51V123H411V124.3H411.49V123.1H411.99V124.3H412.48V121.5H412.97V121.8H413.47V121.3H413.96V120H414.45V118.5H414.95V117.5H415.44V117.4H415.93V118.7H416.43V118.8H416.92V120.1H417.41V121.4H417.91V120.8H418.4V132.5ZM452.4,132.5V123.5H452.91V122.6H453.41V121H453.92V121.9H454.42V121.4H454.93V122.3H455.44V120.9H455.94V119.9H456.45V120.4H456.95V119.8H457.46V117.4H457.96V116.7H458.47V115.4H458.98V115.9H459.48V116.8H459.99V116.9H460.49V116.2H461V132.5ZM503,132.5V121.6H503.5V125.3H504V123H504.5V124.1H505V123.6H505.5V123.1H506V121.7H506.5V122.9H507V121.3H507.5V120.2H508V119.4H508.5V119.9H509V119H509.5V118.8H510V116.2H510.5V116.3H511V114.6H511.5V113.6H512V111.5H512.5V111.3H513V112H513.5V109.7H514V109.1H514.5V108.6H515V106.5H515.5V108.4H516V132.5Z" fill="#26962a"/>
<path d="M361,132.5V122.2H361.5V122.2H362.01V123H362.51V122.4H363.01V123.2H363.52V122.5H364.02V122.7H364.52V120.7H365.03V118.8H365.53V120H366.03V117.8H366.54V119.2H367.04V118.3H367.54V116.3H368.05V117.5H368.55V118.2H369.05V119.2H369.55V118.5H370.06V118.8H370.56V119.8H371.06V118.2H371.57V117.7H372.07V118.6H372.57V117.5H373.08V117.3H373.58V115.4H374.08V116.3H374.59V116H375.09V114.4H375.59V115.9H376.1V116.3H376.6V132.5ZM418.4,132.5V121H418.9V118.7H419.4V118.9H419.9V117.1H420.4V116.3H420.9V115.8H421.4V115.2H421.9V115.4H422.4V117.1H422.9V118.7H423.4V119.2H423.9V120.1H424.4V121.6H424.9V120.9H425.4V120.4H425.9V122.2H426.4V122.5H426.9V121.6H427.4V122.9H427.9V123.6H428.4V123.3H428.9V124.2H429.4V123.4H429.9V123.6H430.4V122.4H430.9V122.2H431.4V132.5ZM461,132.5V113.9H461.51V111.8H462.01V115.2H462.52V115.6H463.03V115.9H463.53V116.7H464.04V117.7H464.55V119H465.05V117.5H465.56V118.3H466.07V117.6H466.57V117.2H467.08V115.2H467.59V116.6H468.09V117H468.6V132.5ZM516,132.5V109.9H516.51V111H517.01V106.6H517.52V109.6H518.02V108.2H518.53V107.3H519.04V107.6H519.54V109.2H520.05V109H520.55V108.8H521.06V108.1H521.56V110.6H522.07V113.7H522.58V116.6H523.08V116.7H523.59V117.7H524.09V117.3H524.6V132.5Z" fill="#ca8e10"/>
<path d="M307.5,119.4v.9M307.5,121.2v1.1M308.2,119.8v.9M314.5,122.3V125.3M314.5,125.8v.7M317.5,121.6V124.3M320.5,117.8V122.7M324.5,116.2V120.5M326.5,119V122.1M328.8,121.9v1.1M328.5,123.6v1.1M331.5,115.8V122.1M339.5,117.7V121.5M341.5,120.3V124.3M342.2,124.7v.9M344.5,114.2V122.4M344.8,116.3v1.1M344.2,117.9v1.1M345.8,114.9v.9M346.5,112.1V116.6M347.8,118.7v1.1M348.5,112V120.7M349.2,115.1v1.1M349.5,120.1v.9M352.5,117.5V121.1M352.8,121.5v1.1M352.8,123.4v.7M354.5,123.8v1.1M356.8,122.3v1.1M361.5,120.7V124.8M361.8,124.4v.7M364.5,119.2V123.6M367.5,118.3v1.1M368.5,116.7V123.9M372.5,116V120.9M373.5,122.3v.7M373.8,124.2v.9M374.8,118v.9M375.5,114.4V120.7M377.2,124.7v1.1M380.8,124.1v1.1M385.5,122.3V124.8M389.5,113.9V118.3M391.5,119.8V122.6M395.5,113.9V120.6M396.2,121.6v1.1M397.5,116.6V120.6M398.2,120.7v.9M401.5,118.6V123.1M404.5,119.7V123.1M407.2,119.5v.7M408.5,120.2V123.4M410.2,123.6v.7M411.5,121.6V124.4M413.8,123.2v1.1M416.5,117.3V120.2M416.8,119.4v1.1M419.8,121.4v1.1M421.8,115.8v.7M421.2,124.2v1.1M422.5,115.6V120.8M423.8,119.8v.7M427.2,123.5v.9M429.5,124v.9M431.8,119.7v.7M433.2,119.5v.7M435.5,117.9V122M435.8,125.5v1.1M436.5,121.9v.9M445.5,113.6V118.1M447.5,112.5V119.3M449.8,122.9v.7M450.5,119V124.3M450.5,124.6v.9M454.5,119.9V122.3M456.5,118.9V122.6M457.2,119.5v.9M458.8,120.3v.9M459.5,115.3V122.6M459.2,120.4v.9M460.8,116.8v1.1M461.5,115.5v.9M464.5,117.5V123.9M467.5,117.2v.7M467.5,122.3v1.1M468.5,115.5V120.9M468.8,120.6v.9M469.5,112.2V116.6M469.2,114.3v.7M470.5,110.3v.9M471.2,113.5v.9M473.2,121.7v.7M474.5,112.4v.7M474.5,119.6v.9M478.5,117.6V123.6M479.2,120v1.1M480.5,119.2V122.7M481.5,123.9v.9M487.5,120.1V123.2M489.5,117.5V124.2M494.5,121.3V124M496.5,120.4V124.9M497.2,121.6v.7M500.5,119.4V122.3M500.5,122.7v1.1M505.5,123.7v1.1M507.5,118.7V123M509.8,125.4v1.1M510.5,114.8V122.1M513.5,108.2V114.7M513.5,112.2v1.1M514.2,109.2v.9M515.2,116.5v.7M516.5,109.5V117.3M516.5,116.4v.9M519.5,119.4v.7M519.2,120.8v1.1M519.8,122.1v.9M520.8,109.4v.9M520.5,114.4v.7M520.2,120.2v.9M521.5,115.5v.9M522.5,115.1V124M523.8,120v.7M526.2,117v.9M526.8,121.7v1.1M527.5,110.2V118M527.5,115.7v1.1M527.2,120.8v.9M528.2,115.8v1.1M529.5,116.3v1.1M530.5,117.1V121.7M532.5,100.4V116.9M532.5,122.3v.7M533.2,112.4v1.1M533.2,121.3v.7M534.5,112.2v.9M534.5,114.6v.7M536.5,114.7V119.8M538.5,116.2V120.2M538.8,122.7v.9" stroke="#fff" stroke-width="0.72" fill="none"/>
<path d="M308.5,59.5h0M308.5,61.5h0M308.5,65.5h0M308.5,68.5h0M308.5,72.5h0M308.5,74.5h0M308.5,76.5h0M308.5,78.5h0M308.5,80.5h0M308.5,82.5h0M308.5,84.5h0M476.5,21.5h0M476.5,33.5h0M476.5,42.5h0M476.5,47.5h0M476.5,54.5h0M476.5,61.5h0M476.5,68.5h0M476.5,73.5h0M476.5,78.5h0M476.5,81.5h0M476.5,83.5h0M471.5,68.5h0M471.5,75.5h0M471.5,80.5h0M471.5,83.5h0" stroke="#ac40e2" stroke-width="1.28" stroke-linecap="round" fill="none"/>
<path d="M307.5,117v-1.35M307.5,116v-1.35M307.5,114v-1.35M307.5,113v-1.35M307.5,111v-1.35M307.5,109v-1.35M307.5,107v-1.35M307.5,105v-1.35M308.5,117v-1.35M308.5,116v-1.35M308.5,114v-1.35M308.5,113v-1.35M308.5,111v-1.35M308.5,109v-1.35M308.5,107v-1.35M308.5,105v-1.35M308.5,102v-1.35M308.5,99v-1.35M308.5,97v-1.35M308.5,94v-1.35M308.5,90v-1.35M308.5,87v-1.35M308.5,83v-1.35M308.5,78v-1.35M309.5,120v-1.35M309.5,119v-1.35M309.5,117v-1.35M309.5,116v-1.35M309.5,114v-1.35M309.5,112v-1.35M309.5,110v-1.35M309.5,108v-1.35M309.5,106v-1.35M309.5,103v-1.35M309.5,100v-1.35M309.5,97v-1.35M310.5,119v-1.35M310.5,118v-1.35M310.5,116v-1.35M311.5,123v-1.35M311.5,122v-1.35M311.5,120v-1.35M311.5,118v-1.35M311.5,116v-1.35M312.5,124v-1.35M313.5,125v-1.35M315.5,124v-1.35M316.5,123v-1.35M318.5,122v-1.35M318.5,120v-1.35M318.5,119v-1.35M318.5,117v-1.35M318.5,116v-1.35M318.5,114v-1.35M318.5,112v-1.35M319.5,121v-1.35M319.5,120v-1.35M321.5,118v-1.35M321.5,116v-1.35M321.5,115v-1.35M321.5,113v-1.35M321.5,111v-1.35M321.5,110v-1.35M321.5,108v-1.35M323.5,118v-1.35M323.5,117v-1.35M323.5,115v-1.35M323.5,113v-1.35M323.5,111v-1.35M323.5,109v-1.35M323.5,108v-1.35M323.5,105v-1.35M323.5,103v-1.35M323.5,101v-1.35M323.5,98v-1.35M327.5,119v-1.35M327.5,117v-1.35M327.5,116v-1.35M328.5,118v-1.35M328.5,116v-1.35M328.5,115v-1.35M328.5,113v-1.35M329.5,118v-1.35M329.5,117v-1.35M329.5,115v-1.35M329.5,113v-1.35M329.5,112v-1.35M329.5,110v-1.35M329.5,108v-1.35M329.5,105v-1.35M329.5,103v-1.35M329.5,101v-1.35M332.5,115v-1.35M332.5,114v-1.35M332.5,112v-1.35M332.5,110v-1.35M332.5,108v-1.35M332.5,107v-1.35M377.5,124v-1.35M377.5,123v-1.35M379.5,123v-1.35M379.5,121v-1.35M379.5,120v-1.35M380.5,120v-1.35M380.5,118v-1.35M380.5,117v-1.35M380.5,115v-1.35M381.5,123v-1.35M381.5,122v-1.35M382.5,123v-1.35M383.5,122v-1.35M383.5,121v-1.35M383.5,119v-1.35M384.5,120v-1.35M384.5,119v-1.35M386.5,123v-1.35M386.5,122v-1.35M386.5,120v-1.35M431.5,119v-1.35M432.5,116v-1.35M432.5,115v-1.35M432.5,113v-1.35M432.5,111v-1.35M432.5,110v-1.35M432.5,108v-1.35M432.5,106v-1.35M432.5,104v-1.35M432.5,102v-1.35M432.5,99v-1.35M432.5,96v-1.35M432.5,93v-1.35M432.5,90v-1.35M432.5,87v-1.35M433.5,117v-1.35M433.5,115v-1.35M433.5,114v-1.35M433.5,112v-1.35M433.5,110v-1.35M433.5,108v-1.35M433.5,106v-1.35M434.5,119v-1.35M434.5,117v-1.35M434.5,116v-1.35M436.5,120v-1.35M436.5,118v-1.35M436.5,117v-1.35M436.5,115v-1.35M439.5,125v-1.35M442.5,119v-1.35M442.5,118v-1.35M442.5,117v-1.35M442.5,115v-1.35M442.5,113v-1.35M442.5,112v-1.35M442.5,110v-1.35M442.5,107v-1.35M443.5,117v-1.35M443.5,116v-1.35M470.5,110v-1.35M470.5,108v-1.35M470.5,107v-1.35M470.5,105v-1.35M470.5,103v-1.35M470.5,101v-1.35M470.5,99v-1.35M470.5,97v-1.35M471.5,111v-1.35M471.5,110v-1.35M471.5,108v-1.35M471.5,107v-1.35M471.5,105v-1.35M471.5,103v-1.35M471.5,101v-1.35M471.5,99v-1.35M471.5,97v-1.35M471.5,94v-1.35M471.5,91v-1.35M471.5,88v-1.35M471.5,85v-1.35M471.5,81v-1.35M471.5,78v-1.35M472.5,112v-1.35M472.5,111v-1.35M472.5,109v-1.35M472.5,108v-1.35M472.5,106v-1.35M472.5,104v-1.35M472.5,102v-1.35M472.5,100v-1.35M472.5,97v-1.35M472.5,95v-1.35M473.5,114v-1.35M474.5,112v-1.35M474.5,110v-1.35M474.5,109v-1.35M474.5,107v-1.35M474.5,105v-1.35M474.5,104v-1.35M475.5,108v-1.35M475.5,107v-1.35M475.5,105v-1.35M475.5,103v-1.35M475.5,101v-1.35M476.5,112v-1.35M476.5,110v-1.35M476.5,109v-1.35M476.5,107v-1.35M476.5,105v-1.35M476.5,103v-1.35M476.5,101v-1.35M476.5,99v-1.35M476.5,97v-1.35M476.5,94v-1.35M476.5,91v-1.35M476.5,88v-1.35M476.5,85v-1.35M476.5,82v-1.35M476.5,78v-1.35M477.5,117v-1.35M477.5,115v-1.35M477.5,114v-1.35M477.5,112v-1.35M477.5,110v-1.35M477.5,108v-1.35M477.5,106v-1.35M477.5,104v-1.35M477.5,102v-1.35M479.5,119v-1.35M479.5,118v-1.35M479.5,116v-1.35M481.5,121v-1.35M481.5,119v-1.35M481.5,118v-1.35M481.5,116v-1.35M481.5,114v-1.35M481.5,113v-1.35M482.5,121v-1.35M482.5,119v-1.35M483.5,121v-1.35M483.5,119v-1.35M483.5,118v-1.35M483.5,116v-1.35M483.5,114v-1.35M483.5,112v-1.35M484.5,121v-1.35M484.5,120v-1.35M484.5,119v-1.35M484.5,117v-1.35M484.5,115v-1.35M484.5,113v-1.35M484.5,111v-1.35M484.5,109v-1.35M484.5,106v-1.35M485.5,122v-1.35M485.5,121v-1.35M485.5,119v-1.35M525.5,114v-1.35M525.5,112v-1.35M525.5,111v-1.35M525.5,109v-1.35M525.5,107v-1.35M525.5,105v-1.35M525.5,103v-1.35M525.5,101v-1.35M525.5,98v-1.35M525.5,95v-1.35M525.5,92v-1.35M525.5,89v-1.35M526.5,112v-1.35M526.5,110v-1.35M526.5,109v-1.35M528.5,115v-1.35M528.5,114v-1.35M529.5,116v-1.35M529.5,114v-1.35M529.5,113v-1.35" stroke="#ac40e2" stroke-width="1.25" fill="none"/>
<path d="M333.5,72.5h0M333.5,78.5h0M532.5,74.5h0M532.5,76.5h0M532.5,78.5h0" stroke="#0a0afc" stroke-width="1.28" stroke-linecap="round" fill="none"/>
<path d="M333.5,117v-1.35M333.5,115v-1.35M333.5,114v-1.35M333.5,112v-1.35M333.5,110v-1.35M333.5,108v-1.35M333.5,106v-1.35M333.5,104v-1.35M333.5,102v-1.35M333.5,100v-1.35M333.5,97v-1.35M333.5,94v-1.35M333.5,90v-1.35M333.5,87v-1.35M333.5,83v-1.35M333.5,80v-1.35M334.5,118v-1.35M334.5,116v-1.35M334.5,115v-1.35M334.5,113v-1.35M334.5,111v-1.35M335.5,118v-1.35M335.5,117v-1.35M335.5,115v-1.35M335.5,114v-1.35M335.5,112v-1.35M335.5,110v-1.35M336.5,118v-1.35M336.5,117v-1.35M336.5,115v-1.35M336.5,113v-1.35M338.5,118v-1.35M338.5,117v-1.35M338.5,115v-1.35M338.5,114v-1.35M338.5,112v-1.35M338.5,110v-1.35M338.5,108v-1.35M338.5,106v-1.35M338.5,103v-1.35M338.5,101v-1.35M338.5,98v-1.35M338.5,94v-1.35M338.5,91v-1.35M338.5,87v-1.35M340.5,121v-1.35M340.5,119v-1.35M342.5,119v-1.35M342.5,118v-1.35M342.5,116v-1.35M342.5,114v-1.35M342.5,112v-1.35M342.5,111v-1.35M342.5,109v-1.35M343.5,117v-1.35M343.5,116v-1.35M343.5,115v-1.35M343.5,113v-1.35M343.5,111v-1.35M343.5,109v-1.35M343.5,107v-1.35M343.5,105v-1.35M343.5,102v-1.35M347.5,113v-1.35M347.5,112v-1.35M347.5,110v-1.35M347.5,108v-1.35M347.5,106v-1.35M347.5,105v-1.35M347.5,103v-1.35M347.5,100v-1.35M347.5,98v-1.35M347.5,95v-1.35M347.5,92v-1.35M347.5,90v-1.35M347.5,86v-1.35M347.5,83v-1.35M387.5,120v-1.35M388.5,117v-1.35M388.5,116v-1.35M388.5,115v-1.35M388.5,113v-1.35M390.5,118v-1.35M390.5,117v-1.35M390.5,115v-1.35M390.5,113v-1.35M390.5,111v-1.35M390.5,110v-1.35M390.5,108v-1.35M390.5,105v-1.35M392.5,119v-1.35M393.5,117v-1.35M393.5,115v-1.35M393.5,114v-1.35M393.5,112v-1.35M394.5,116v-1.35M394.5,114v-1.35M394.5,113v-1.35M394.5,111v-1.35M394.5,109v-1.35M394.5,108v-1.35M394.5,106v-1.35M394.5,103v-1.35M394.5,101v-1.35M394.5,99v-1.35M394.5,96v-1.35M394.5,93v-1.35M394.5,90v-1.35M394.5,87v-1.35M394.5,83v-1.35M396.5,116v-1.35M396.5,115v-1.35M396.5,113v-1.35M398.5,120v-1.35M399.5,123v-1.35M399.5,121v-1.35M399.5,120v-1.35M400.5,120v-1.35M402.5,120v-1.35M402.5,119v-1.35M402.5,117v-1.35M403.5,121v-1.35M403.5,119v-1.35M403.5,118v-1.35M403.5,116v-1.35M403.5,115v-1.35M403.5,113v-1.35M403.5,111v-1.35M444.5,117v-1.35M444.5,115v-1.35M444.5,114v-1.35M444.5,112v-1.35M444.5,110v-1.35M446.5,113v-1.35M446.5,111v-1.35M446.5,110v-1.35M446.5,108v-1.35M446.5,106v-1.35M446.5,105v-1.35M446.5,103v-1.35M446.5,101v-1.35M446.5,99v-1.35M446.5,96v-1.35M448.5,117v-1.35M448.5,116v-1.35M448.5,114v-1.35M448.5,112v-1.35M448.5,111v-1.35M448.5,109v-1.35M448.5,107v-1.35M448.5,105v-1.35M449.5,120v-1.35M449.5,119v-1.35M449.5,117v-1.35M449.5,116v-1.35M451.5,122v-1.35M451.5,121v-1.35M451.5,119v-1.35M451.5,117v-1.35M451.5,116v-1.35M451.5,114v-1.35M486.5,122v-1.35M488.5,119v-1.35M488.5,118v-1.35M490.5,118v-1.35M490.5,117v-1.35M490.5,115v-1.35M491.5,119v-1.35M491.5,117v-1.35M491.5,116v-1.35M491.5,114v-1.35M491.5,112v-1.35M491.5,111v-1.35M492.5,123v-1.35M492.5,121v-1.35M493.5,123v-1.35M493.5,122v-1.35M493.5,120v-1.35M493.5,118v-1.35M497.5,121v-1.35M497.5,119v-1.35M497.5,118v-1.35M498.5,120v-1.35M498.5,118v-1.35M498.5,117v-1.35M498.5,115v-1.35M499.5,122v-1.35M499.5,121v-1.35M501.5,118v-1.35M501.5,117v-1.35M501.5,116v-1.35M502.5,116v-1.35M502.5,115v-1.35M502.5,114v-1.35M502.5,112v-1.35M502.5,110v-1.35M531.5,107v-1.35M531.5,106v-1.35M531.5,104v-1.35M531.5,103v-1.35M531.5,101v-1.35M531.5,99v-1.35M531.5,96v-1.35M531.5,94v-1.35M531.5,92v-1.35M531.5,89v-1.35M531.5,86v-1.35M531.5,83v-1.35M531.5,80v-1.35M531.5,77v-1.35M533.5,104v-1.35M533.5,103v-1.35M534.5,108v-1.35M534.5,107v-1.35M534.5,105v-1.35M534.5,103v-1.35M534.5,102v-1.35M534.5,100v-1.35M535.5,114v-1.35M535.5,113v-1.35M535.5,111v-1.35M535.5,109v-1.35" stroke="#0a0afc" stroke-width="1.25" fill="none"/>
<path d="M512.5,75.5h0M512.5,77.5h0" stroke="#26962a" stroke-width="1.28" stroke-linecap="round" fill="none"/>
<path d="M349.5,113v-1.35M349.5,111v-1.35M349.5,109v-1.35M349.5,108v-1.35M350.5,112v-1.35M350.5,111v-1.35M351.5,116v-1.35M351.5,114v-1.35M351.5,113v-1.35M351.5,111v-1.35M351.5,109v-1.35M351.5,107v-1.35M351.5,105v-1.35M351.5,103v-1.35M351.5,100v-1.35M351.5,98v-1.35M353.5,122v-1.35M353.5,120v-1.35M353.5,119v-1.35M353.5,117v-1.35M354.5,123v-1.35M354.5,122v-1.35M355.5,123v-1.35M356.5,121v-1.35M357.5,118v-1.35M357.5,117v-1.35M357.5,116v-1.35M357.5,114v-1.35M357.5,112v-1.35M358.5,118v-1.35M358.5,116v-1.35M358.5,115v-1.35M358.5,113v-1.35M358.5,111v-1.35M358.5,109v-1.35M359.5,118v-1.35M359.5,116v-1.35M359.5,115v-1.35M359.5,113v-1.35M359.5,111v-1.35M360.5,121v-1.35M360.5,120v-1.35M360.5,118v-1.35M405.5,120v-1.35M405.5,119v-1.35M406.5,120v-1.35M406.5,118v-1.35M406.5,117v-1.35M406.5,115v-1.35M407.5,119v-1.35M407.5,117v-1.35M407.5,116v-1.35M407.5,114v-1.35M407.5,113v-1.35M407.5,111v-1.35M407.5,109v-1.35M407.5,106v-1.35M407.5,104v-1.35M407.5,101v-1.35M407.5,99v-1.35M407.5,96v-1.35M407.5,93v-1.35M407.5,89v-1.35M409.5,122v-1.35M409.5,121v-1.35M410.5,123v-1.35M410.5,121v-1.35M410.5,120v-1.35M412.5,121v-1.35M413.5,121v-1.35M413.5,120v-1.35M413.5,118v-1.35M413.5,117v-1.35M413.5,115v-1.35M413.5,113v-1.35M414.5,118v-1.35M414.5,117v-1.35M414.5,115v-1.35M414.5,114v-1.35M414.5,112v-1.35M414.5,110v-1.35M414.5,108v-1.35M414.5,106v-1.35M414.5,103v-1.35M415.5,117v-1.35M415.5,116v-1.35M415.5,114v-1.35M415.5,112v-1.35M417.5,121v-1.35M417.5,120v-1.35M417.5,118v-1.35M417.5,117v-1.35M452.5,123v-1.35M452.5,122v-1.35M452.5,120v-1.35M455.5,121v-1.35M457.5,117v-1.35M458.5,115v-1.35M458.5,114v-1.35M458.5,112v-1.35M458.5,110v-1.35M458.5,108v-1.35M458.5,107v-1.35M458.5,105v-1.35M460.5,116v-1.35M460.5,115v-1.35M460.5,113v-1.35M460.5,111v-1.35M503.5,125v-1.35M503.5,123v-1.35M503.5,122v-1.35M504.5,124v-1.35M506.5,123v-1.35M506.5,121v-1.35M508.5,120v-1.35M508.5,118v-1.35M508.5,117v-1.35M509.5,119v-1.35M509.5,117v-1.35M511.5,113v-1.35M511.5,112v-1.35M511.5,110v-1.35M511.5,109v-1.35M511.5,107v-1.35M511.5,105v-1.35M511.5,103v-1.35M511.5,101v-1.35M512.5,111v-1.35M512.5,110v-1.35M512.5,108v-1.35M512.5,106v-1.35M512.5,104v-1.35M512.5,103v-1.35M512.5,101v-1.35M512.5,98v-1.35M512.5,96v-1.35M512.5,93v-1.35M512.5,91v-1.35M512.5,88v-1.35M512.5,84v-1.35M512.5,81v-1.35M512.5,76v-1.35M514.5,108v-1.35M514.5,107v-1.35M514.5,105v-1.35M514.5,104v-1.35M514.5,102v-1.35M514.5,100v-1.35M514.5,99v-1.35M514.5,96v-1.35M514.5,94v-1.35M515.5,108v-1.35M515.5,107v-1.35M515.5,105v-1.35M515.5,103v-1.35M515.5,102v-1.35M515.5,100v-1.35M515.5,98v-1.35M515.5,95v-1.35M515.5,93v-1.35M515.5,91v-1.35M515.5,88v-1.35M515.5,85v-1.35" stroke="#26962a" stroke-width="1.25" fill="none"/>
<path d="" stroke="#ca8e10" stroke-width="1.28" stroke-linecap="round" fill="none"/>
<path d="M363.5,122v-1.35M365.5,120v-1.35M365.5,118v-1.35M365.5,117v-1.35M366.5,119v-1.35M366.5,118v-1.35M367.5,116v-1.35M367.5,115v-1.35M367.5,113v-1.35M367.5,112v-1.35M367.5,110v-1.35M367.5,108v-1.35M367.5,106v-1.35M367.5,104v-1.35M367.5,101v-1.35M367.5,99v-1.35M367.5,96v-1.35M367.5,93v-1.35M367.5,89v-1.35M369.5,118v-1.35M369.5,117v-1.35M369.5,116v-1.35M369.5,114v-1.35M369.5,112v-1.35M369.5,110v-1.35M370.5,120v-1.35M370.5,118v-1.35M370.5,117v-1.35M370.5,115v-1.35M371.5,118v-1.35M371.5,116v-1.35M371.5,115v-1.35M371.5,113v-1.35M373.5,115v-1.35M373.5,114v-1.35M374.5,116v-1.35M374.5,114v-1.35M374.5,113v-1.35M374.5,111v-1.35M374.5,110v-1.35M374.5,108v-1.35M376.5,116v-1.35M376.5,115v-1.35M376.5,113v-1.35M376.5,111v-1.35M376.5,110v-1.35M376.5,108v-1.35M376.5,105v-1.35M376.5,103v-1.35M376.5,101v-1.35M376.5,98v-1.35M376.5,95v-1.35M376.5,92v-1.35M418.5,121v-1.35M418.5,119v-1.35M418.5,118v-1.35M418.5,116v-1.35M419.5,119v-1.35M419.5,117v-1.35M420.5,116v-1.35M420.5,114v-1.35M421.5,115v-1.35M421.5,114v-1.35M421.5,112v-1.35M421.5,110v-1.35M421.5,109v-1.35M421.5,107v-1.35M421.5,105v-1.35M421.5,102v-1.35M421.5,100v-1.35M421.5,98v-1.35M421.5,95v-1.35M421.5,92v-1.35M421.5,88v-1.35M421.5,85v-1.35M423.5,119v-1.35M423.5,117v-1.35M423.5,116v-1.35M423.5,114v-1.35M424.5,121v-1.35M424.5,120v-1.35M424.5,118v-1.35M426.5,122v-1.35M426.5,121v-1.35M426.5,119v-1.35M426.5,118v-1.35M426.5,116v-1.35M426.5,114v-1.35M426.5,112v-1.35M427.5,123v-1.35M427.5,121v-1.35M428.5,123v-1.35M429.5,123v-1.35M430.5,122v-1.35M461.5,112v-1.35M461.5,110v-1.35M461.5,109v-1.35M461.5,107v-1.35M461.5,105v-1.35M461.5,103v-1.35M461.5,101v-1.35M461.5,99v-1.35M461.5,97v-1.35M461.5,94v-1.35M461.5,91v-1.35M461.5,89v-1.35M461.5,85v-1.35M461.5,81v-1.35M462.5,115v-1.35M462.5,114v-1.35M462.5,112v-1.35M462.5,111v-1.35M462.5,109v-1.35M462.5,107v-1.35M463.5,116v-1.35M463.5,115v-1.35M463.5,114v-1.35M463.5,112v-1.35M463.5,110v-1.35M463.5,108v-1.35M463.5,106v-1.35M463.5,104v-1.35M465.5,118v-1.35M465.5,117v-1.35M466.5,117v-1.35M466.5,116v-1.35M466.5,114v-1.35M466.5,112v-1.35M466.5,111v-1.35M467.5,116v-1.35M467.5,115v-1.35M467.5,113v-1.35M467.5,112v-1.35M467.5,110v-1.35M467.5,108v-1.35M467.5,106v-1.35M517.5,109v-1.35M517.5,108v-1.35M517.5,106v-1.35M517.5,105v-1.35M517.5,103v-1.35M518.5,107v-1.35M518.5,106v-1.35M518.5,104v-1.35M518.5,102v-1.35M518.5,101v-1.35M518.5,99v-1.35M519.5,109v-1.35M520.5,109v-1.35M520.5,107v-1.35M520.5,106v-1.35M521.5,110v-1.35M521.5,109v-1.35M521.5,108v-1.35M521.5,106v-1.35M521.5,104v-1.35M521.5,102v-1.35M523.5,118v-1.35M523.5,116v-1.35M523.5,115v-1.35M524.5,117v-1.35M524.5,116v-1.35" stroke="#ca8e10" stroke-width="1.25" fill="none"/>
<line x1="298.4" y1="78.9" x2="547.2" y2="78.9" stroke="#ffc4c8" stroke-width="2.1"/>
<rect x="298.4" y="17.45" width="248.8" height="118.65" fill="none" stroke="#a2a2a2" stroke-width="0.9"/>
<text transform="translate(292.9,131.6) rotate(-90) scale(.1)" text-anchor="middle" class="t">0.0</text>
<text transform="translate(292.9,105.3) rotate(-90) scale(.1)" text-anchor="middle" class="t">0.2</text>
<text transform="translate(292.9,79) rotate(-90) scale(.1)" text-anchor="middle" class="t">0.4</text>
<text transform="translate(292.9,52.7) rotate(-90) scale(.1)" text-anchor="middle" class="t">0.6</text>
<text transform="translate(292.9,26.4) rotate(-90) scale(.1)" text-anchor="middle" class="t">0.8</text>
<path d="M298.4,131.6h-2.4M298.4,105.3h-2.4M298.4,79h-2.4M298.4,52.7h-2.4M298.4,26.4h-2.4M298.4,26.4V131.6" stroke="#707070" stroke-width="0.6" fill="none"/>
<text transform="translate(320.4,144.7) scale(.1)" text-anchor="middle" class="t">1</text>
<text transform="translate(340.9,144.7) scale(.1)" text-anchor="middle" class="t">2</text>
<text transform="translate(354.6,144.7) scale(.1)" text-anchor="middle" class="t">3</text>
<text transform="translate(369,144.7) scale(.1)" text-anchor="middle" class="t">4</text>
<text transform="translate(381.8,144.7) scale(.1)" text-anchor="middle" class="t">5</text>
<text transform="translate(395.3,144.7) scale(.1)" text-anchor="middle" class="t">6</text>
<text transform="translate(411.1,144.7) scale(.1)" text-anchor="middle" class="t">7</text>
<text transform="translate(424.8,144.7) scale(.1)" text-anchor="middle" class="t">8</text>
<text transform="translate(438.2,144.7) scale(.1)" text-anchor="middle" class="t">9</text>
<text transform="translate(448.5,144.7) scale(.1)" text-anchor="middle" class="t">10</text>
<text transform="translate(456.8,144.7) scale(.1)" text-anchor="middle" class="t">11</text>
<text transform="translate(465,144.7) scale(.1)" text-anchor="middle" class="t">12</text>
<text transform="translate(477.4,144.7) scale(.1)" text-anchor="middle" class="t">13</text>
<text transform="translate(494.6,144.7) scale(.1)" text-anchor="middle" class="t">14</text>
<text transform="translate(509.5,144.7) scale(.1)" text-anchor="middle" class="t">15</text>
<text transform="translate(520.3,144.7) scale(.1)" text-anchor="middle" class="t">16</text>
<text transform="translate(528.3,144.7) scale(.1)" text-anchor="middle" class="t">17</text>
<path d="M320.4,136.1v2.4M340.9,136.1v2.4M354.6,136.1v2.4M369,136.1v2.4M381.8,136.1v2.4M395.3,136.1v2.4M411.1,136.1v2.4M424.8,136.1v2.4M438.2,136.1v2.4M448.5,136.1v2.4M456.8,136.1v2.4M465,136.1v2.4M477.4,136.1v2.4M494.6,136.1v2.4M509.5,136.1v2.4M520.3,136.1v2.4M528.3,136.1v2.4M534.8,136.1v2.4M320.4,136.1H534.8" stroke="#8c8c8c" stroke-width="0.55" fill="none"/>
<text transform="translate(422.5,153.6) scale(.1)" text-anchor="middle" class="t">Chromosome</text>
<text transform="translate(283.1,76.8) rotate(-90) scale(.1)" text-anchor="middle" class="t">SNPvar (%)</text>
<text transform="translate(286.6,9.1) scale(.1)" class="pl">(b)</text>
</g>
<g>
<path d="M30,294.1V279.3H30.5V279.5H31V279.5H31.5V277H32V278H32.5V279.7H33V278.9H33.5V280.9H34V282.3H34.5V281.7H35V283.6H35.5V284.1H36V283.5H36.5V285.5H37V285.6H37.5V286.1H38V284.9H38.5V283.6H39V284.3H39.5V283.2H40V282.5H40.5V280.9H41V280.8H41.5V281.3H42V279.9H42.5V278.7H43V279.3H43.5V278.5H44V278.6H44.5V278.3H45V278.5H45.5V280.8H46V279.3H46.5V278.9H47V278.7H47.5V279.9H48V280.2H48.5V279.5H49V278.2H49.5V279H50V279H50.5V278.2H51V278.3H51.5V275.9H52V276.1H52.5V275H53V275.9H53.5V273.5H54V275.4H54.5V274.7H55V273.1H55.5V273H56V294.1ZM99.6,294.1V281.4H100.1V282.1H100.59V281.7H101.09V280.6H101.58V282.6H102.08V281.2H102.57V281.4H103.07V280.9H103.56V282.3H104.06V284.2H104.55V282.9H105.05V284.1H105.54V284.3H106.04V285H106.53V285.9H107.03V285.8H107.52V286.8H108.02V286.8H108.51V286.1H109.01V285.6H109.5V283.9H110V294.1ZM154.4,294.1V275.3H154.89V274H155.38V275.1H155.88V273.9H156.37V275.2H156.86V277.2H157.35V278H157.85V279.7H158.34V281H158.83V280.7H159.32V283H159.82V282.5H160.31V282.5H160.8V283.4H161.29V284H161.78V284H162.28V284.8H162.77V285.4H163.26V284.5H163.75V284.2H164.25V282.7H164.74V282.8H165.23V279.7H165.72V277.5H166.22V277.6H166.71V277.3H167.2V294.1ZM191.6,294.1V274.5H192.1V273H192.59V271.8H193.09V270.1H193.59V270.9H194.09V268.4H194.58V272.2H195.08V269.5H195.58V271.2H196.07V270.6H196.57V272.1H197.07V271.4H197.57V272H198.06V271.4H198.56V271.4H199.06V272.4H199.55V273.2H200.05V274.5H200.55V275.5H201.05V275.1H201.54V274.5H202.04V278H202.54V276.9H203.03V279.7H203.53V280.1H204.03V281.5H204.53V281.3H205.02V281H205.52V282.3H206.02V280.7H206.51V280.3H207.01V278.4H207.51V278.9H208.01V280.6H208.5V282H209V294.1ZM247.6,294.1V277.3H248.09V276.9H248.57V276.1H249.06V278.2H249.54V278.3H250.03V277.5H250.51V278.6H251V277.8H251.49V278.6H251.97V279.2H252.46V279.4H252.94V279H253.43V278.5H253.91V276.6H254.4V294.1Z" fill="#ac40e2"/>
<path d="M56,294.1V275.1H56.5V275.6H56.99V277.1H57.49V276.7H57.99V278.8H58.48V279.2H58.98V278.5H59.48V278.8H59.97V280.1H60.47V276.4H60.97V279H61.46V278.4H61.96V279.7H62.46V278.7H62.95V278.7H63.45V279H63.95V280H64.45V279.3H64.94V278.2H65.44V277.3H65.94V277.1H66.43V275.6H66.93V276.3H67.43V276.5H67.92V275.6H68.42V274.6H68.92V274.9H69.41V273.9H69.91V273.8H70.41V275.3H70.9V274.7H71.4V294.1ZM110,294.1V283.8H110.5V280.7H111.01V281.6H111.51V279.6H112.01V278.5H112.52V278.3H113.02V278.9H113.52V279.1H114.02V278.4H114.53V279.2H115.03V280.3H115.53V282.6H116.04V280.2H116.54V278.5H117.04V278.3H117.55V275.1H118.05V274.8H118.55V275H119.05V275.6H119.56V277.3H120.06V277H120.56V279.3H121.07V279.2H121.57V279.7H122.07V281.8H122.58V283H123.08V282.8H123.58V281.1H124.08V283.1H124.59V281.8H125.09V281.2H125.59V279.1H126.1V280.4H126.6V294.1ZM167.2,294.1V280.3H167.71V280.6H168.22V280.4H168.74V278.1H169.25V278.3H169.76V277.9H170.27V278.7H170.79V280.5H171.3V281.5H171.81V284.4H172.32V283.9H172.84V285.2H173.35V285.5H173.86V284.3H174.38V283.9H174.89V282.4H175.4V294.1ZM209,294.1V279.8H209.5V279.6H210V281.1H210.5V279.3H211V278.1H211.5V278.7H212V280.1H212.5V280.4H213V280.1H213.5V282.1H214V282.7H214.5V282.6H215V281.9H215.5V281.5H216V282.4H216.5V281.3H217V282.9H217.5V280.6H218V281.4H218.5V280H219V280.1H219.5V279H220V279.8H220.5V280.8H221V280.6H221.5V279.1H222V280.1H222.5V276.9H223V278.2H223.5V278.8H224V278.6H224.5V277H225V275.3H225.5V277H226V294.1ZM254.4,294.1V267.4H254.91V263.5H255.43V262H255.94V260.7H256.46V262.9H256.97V261.7H257.49V264H258V264.2H258.51V267.5H259.03V270.5H259.54V272.4H260.06V276.9H260.57V279.4H261.09V281.6H261.6V294.1Z" fill="#0a0afc"/>
<path d="M71.4,294.1V276.6H71.9V280.8H72.41V278.8H72.91V278.3H73.42V278H73.92V276.3H74.42V277.5H74.93V278.4H75.43V277.8H75.94V280H76.44V279.5H76.94V282.1H77.45V280.8H77.95V282.6H78.46V281.9H78.96V279.9H79.46V279.7H79.97V278.1H80.47V279.1H80.98V278.1H81.48V279.7H81.98V280.3H82.49V280.2H82.99V280.2H83.5V281.7H84V294.1ZM126.6,294.1V280.9H127.09V281.9H127.59V281.9H128.08V281.6H128.57V280.8H129.07V280.6H129.56V278.9H130.05V276.7H130.55V277H131.04V279.1H131.53V281.6H132.03V281.3H132.52V284.3H133.01V284.3H133.51V284.7H134V283.8H134.49V283.9H134.99V284H135.48V283.6H135.97V282.3H136.47V281H136.96V279.9H137.45V280.1H137.95V278.6H138.44V277.9H138.93V276.7H139.43V279.2H139.92V280H140.41V281H140.91V281.5H141.4V294.1ZM175.4,294.1V282.1H175.91V284H176.41V283.3H176.92V282.3H177.42V280.5H177.93V281.6H178.44V280.7H178.94V281.9H179.45V282.9H179.95V281H180.46V279.2H180.96V277.1H181.47V276.3H181.98V276.1H182.48V276.3H182.99V279.6H183.49V278.7H184V294.1ZM226,294.1V279.2H226.5V279.9H227V279.8H227.5V279.2H228V278.2H228.5V278.5H229V278H229.5V277H230V279.3H230.5V280.5H231V280.8H231.5V280.3H232V278.3H232.5V277.4H233V276.3H233.5V273.6H234V270.1H234.5V268.8H235V268.7H235.5V267.5H236V268H236.5V265.9H237V265.7H237.5V264.9H238V267.7H238.5V269.2H239V294.1Z" fill="#26962a"/>
<path d="M84,294.1V284.2H84.5V284.8H85.01V283.3H85.51V285H86.01V284.2H86.52V282.4H87.02V283.4H87.52V283.2H88.03V284.8H88.53V284.2H89.03V282.2H89.54V283.5H90.04V281.9H90.54V282.6H91.05V284.1H91.55V283H92.05V285.2H92.55V284H93.06V284.5H93.56V282.3H94.06V281.3H94.57V282.1H95.07V281.2H95.57V280H96.08V279.6H96.58V280H97.08V278.2H97.59V280.7H98.09V277.6H98.59V277.3H99.1V280.6H99.6V294.1ZM141.4,294.1V280.5H141.9V280.3H142.4V279.2H142.9V277.5H143.4V276.7H143.9V276.8H144.4V276.9H144.9V275.9H145.4V277.1H145.9V279.2H146.4V279.7H146.9V280.7H147.4V280.7H147.9V281.4H148.4V281.4H148.9V282.2H149.4V281.2H149.9V281.4H150.4V281.6H150.9V281.1H151.4V278.6H151.9V279.6H152.4V278.7H152.9V276.2H153.4V273.7H153.9V275H154.4V294.1ZM184,294.1V276.1H184.51V271.5H185.01V270.7H185.52V272.9H186.03V275.1H186.53V274.9H187.04V275.7H187.55V278.5H188.05V279.3H188.56V275.9H189.07V275.6H189.57V275.8H190.08V276H190.59V274.6H191.09V274.8H191.6V294.1ZM239,294.1V270.6H239.51V272.7H240.01V271.8H240.52V269.1H241.02V270.1H241.53V268.9H242.04V270.3H242.54V270.8H243.05V272.6H243.55V273.9H244.06V273.5H244.56V274.4H245.07V275.7H245.58V277.9H246.08V277.9H246.59V278.3H247.09V279.8H247.6V294.1Z" fill="#ca8e10"/>
<path d="M30.5,278V284.3M30.2,280.1v.9M30.8,284.9v.9M31.5,285.3v.9M33.5,281.5v.9M38.5,282.1V285.4M39.2,283.8v1.1M41.5,279.8V286.4M42.5,280.7v.7M42.5,284.2v1.1M44.8,282v.9M45.5,279.3V284.8M47.2,280.5v.9M47.2,285.4v1.1M48.5,278V283.7M50.2,284v1.1M52.2,280v1.1M52.5,284.7v.9M55.5,271.5V281M55.8,276.6v.7M58.2,283v1.1M59.8,284.1v1.1M61.5,276.9V284.5M61.5,279v.7M63.2,282.6v.7M65.5,281v1.1M66.5,274.1V282.8M68.5,273.1V279.9M68.5,275.2v1.1M68.5,281.4v.9M72.5,277.3V282.1M73.2,284.6v.7M74.5,284.3v.7M75.2,278.4v1.1M77.8,282.8v.9M80.5,279.7v.7M82.8,280.8v.7M83.5,282.3v.7M85.5,283.5V286.1M89.5,282V285.2M92.5,282.5V285.6M92.2,286.5v.7M94.5,280.6V285M96.5,278.5V284M96.5,280.6v.9M98.5,275.8V282.4M102.5,279.9V284.2M104.2,283.5v1.1M105.5,282.8V286M111.5,278.1V282.1M115.5,281.1V284.1M116.2,280.5v.9M120.5,279.9v.9M120.8,284.3v1.1M123.2,283.1v.9M125.5,277.6V284.6M126.8,281v1.1M127.5,280.4V285.5M129.5,279.5v.7M129.8,287.1v.7M133.5,283.2V285.3M135.5,282.1V285.4M136.5,283.2v1.1M138.5,287v1.1M141.5,279V284.7M143.2,286.7v1.1M144.5,275.4V284.7M145.2,282.7v1.1M146.5,278.2V283.6M146.2,280.3v.7M148.5,279.9V283.4M152.2,282.4v.9M152.5,284.1v1.1M153.8,280.4v.9M154.5,273.8V284.5M155.8,275.7v1.1M156.5,273.7V284.5M158.2,284.6v.7M158.8,286.3v.9M159.5,281.5V285.1M164.5,281.3V284.6M164.5,283.4v.7M165.8,279.6v1.1M166.5,275.8V281.3M166.2,277.9v1.1M166.8,286.7v.9M167.5,279.1V282.3M168.8,278.7v.9M169.5,276.8V284.9M171.5,280V285M173.5,284V286.3M176.5,281.8V285M178.5,286.2v1.1M179.5,281.4V284.2M180.5,284.6v.9M183.5,277.2V280.7M184.5,277.2v.9M185.5,271.4V281.6M185.8,277.2v1.1M186.8,275.5v1.1M187.2,280.5v1.1M188.5,274.4V283.5M188.8,276.5v.9M192.5,270.3V281M194.2,278.1v1.1M195.5,269.7V275.9M196.2,275.8v1.1M197.5,270.5V280.1M198.5,281.1v1.1M199.5,271.7V279.2M201.5,273V281.5M202.8,277.5v.9M203.5,278.6V283.2M205.5,280.8V284.7M207.2,284v1.1M209.5,278.1V282.6M209.8,287.3v1.1M211.8,279.3v1.1M212.5,278.9V283.2M215.2,282.1v.7M215.2,284v.9M216.5,279.8V283.4M218.5,278.5V285.6M220.5,279.3V283.9M222.2,277.5v1.1M222.5,279.3v.7M223.5,277.3V281.2M224.2,277.6v1.1M224.5,282.4v.7M226.5,278.4V281.7M226.8,286.5v.9M228.5,279.1v.9M228.2,280.8v.7M228.5,282.3v1.1M229.5,279.5v.7M231.5,278.8V285.6M233.5,272.1V278.6M233.2,274.2v.7M233.2,277.6v.9M234.2,269.4v.7M234.8,280.2v1.1M235.5,274.2v.7M235.5,275.7v.7M236.8,266.5v.7M236.5,267.8v1.1M236.8,277.5v.9M237.5,263.4V282.9M237.5,268.6v.9M237.5,272.8v.7M237.8,286.8v.9M238.5,277.2v.9M239.5,271.2V282.9M239.5,277v1.1M239.8,284.8v1.1M240.8,269.7v.9M240.8,279v.9M246.5,276.8V281.6M248.8,282.6v1.1M250.5,277.1V282.3M253.5,277V283.5M254.8,273.1v1.1M255.2,271.9v.9M255.5,273.8v.7M256.5,261.4V272.4M256.5,266.6v1.1M256.2,269.9v1.1M256.5,272.5v.7M257.8,277.1v.9M258.5,266V274.2M259.5,276.4v.9M259.2,280.1v.9M260.2,284.2v.7M261.5,280.1V284.6" stroke="#fff" stroke-width="0.72" fill="none"/>
<path d="M31.5,204.5h0M31.5,211.5h0M31.5,216.5h0M31.5,219.5h0M31.5,221.5h0M31.5,224.5h0M31.5,226.5h0M31.5,228.5h0M31.5,230.5h0M31.5,233.5h0M31.5,235.5h0M31.5,238.5h0M31.5,241.5h0M31.5,244.5h0M31.5,248.5h0M31.5,251.5h0M156.5,235.5h0M156.5,237.5h0M156.5,239.5h0M194.5,182.5h0M194.5,195.5h0M194.5,207.5h0M194.5,210.5h0M194.5,212.5h0M194.5,223.5h0M194.5,236.5h0M199.5,183.5h0M199.5,197.5h0M199.5,201.5h0M199.5,207.5h0M199.5,210.5h0M199.5,216.5h0M199.5,221.5h0M199.5,228.5h0M199.5,235.5h0M199.5,237.5h0" stroke="#ac40e2" stroke-width="1.28" stroke-linecap="round" fill="none"/>
<path d="M31.5,277v-1.35M31.5,275v-1.35M31.5,274v-1.35M31.5,272v-1.35M31.5,270v-1.35M31.5,268v-1.35M31.5,266v-1.35M31.5,264v-1.35M31.5,262v-1.35M31.5,259v-1.35M31.5,257v-1.35M31.5,253v-1.35M31.5,250v-1.35M32.5,280v-1.35M32.5,278v-1.35M32.5,277v-1.35M32.5,275v-1.35M32.5,273v-1.35M32.5,271v-1.35M32.5,269v-1.35M32.5,267v-1.35M32.5,265v-1.35M32.5,263v-1.35M32.5,260v-1.35M32.5,257v-1.35M32.5,255v-1.35M32.5,251v-1.35M32.5,247v-1.35M32.5,243v-1.35M32.5,239v-1.35M33.5,281v-1.35M33.5,279v-1.35M33.5,278v-1.35M33.5,276v-1.35M33.5,274v-1.35M33.5,272v-1.35M33.5,270v-1.35M33.5,268v-1.35M33.5,265v-1.35M33.5,263v-1.35M33.5,260v-1.35M35.5,284v-1.35M35.5,282v-1.35M35.5,281v-1.35M35.5,279v-1.35M35.5,277v-1.35M36.5,285v-1.35M36.5,284v-1.35M36.5,282v-1.35M39.5,283v-1.35M39.5,281v-1.35M39.5,280v-1.35M40.5,281v-1.35M40.5,279v-1.35M40.5,278v-1.35M40.5,276v-1.35M40.5,274v-1.35M42.5,278v-1.35M42.5,277v-1.35M42.5,276v-1.35M42.5,274v-1.35M42.5,272v-1.35M42.5,270v-1.35M42.5,269v-1.35M43.5,278v-1.35M44.5,278v-1.35M44.5,277v-1.35M44.5,275v-1.35M44.5,274v-1.35M44.5,272v-1.35M44.5,270v-1.35M44.5,268v-1.35M44.5,266v-1.35M44.5,264v-1.35M44.5,261v-1.35M44.5,259v-1.35M44.5,255v-1.35M44.5,252v-1.35M44.5,249v-1.35M46.5,279v-1.35M46.5,277v-1.35M46.5,276v-1.35M46.5,274v-1.35M46.5,272v-1.35M46.5,270v-1.35M47.5,280v-1.35M47.5,278v-1.35M47.5,277v-1.35M47.5,275v-1.35M47.5,273v-1.35M47.5,271v-1.35M47.5,269v-1.35M49.5,279v-1.35M49.5,277v-1.35M50.5,278v-1.35M51.5,276v-1.35M51.5,274v-1.35M51.5,273v-1.35M51.5,271v-1.35M52.5,275v-1.35M52.5,274v-1.35M52.5,272v-1.35M52.5,270v-1.35M52.5,268v-1.35M52.5,266v-1.35M52.5,264v-1.35M52.5,262v-1.35M52.5,260v-1.35M52.5,257v-1.35M52.5,254v-1.35M54.5,275v-1.35M54.5,273v-1.35M54.5,272v-1.35M54.5,270v-1.35M100.5,281v-1.35M100.5,280v-1.35M100.5,279v-1.35M101.5,282v-1.35M101.5,281v-1.35M101.5,279v-1.35M101.5,277v-1.35M101.5,276v-1.35M101.5,274v-1.35M101.5,272v-1.35M101.5,269v-1.35M104.5,283v-1.35M104.5,281v-1.35M106.5,286v-1.35M106.5,284v-1.35M106.5,283v-1.35M108.5,286v-1.35M109.5,284v-1.35M109.5,282v-1.35M155.5,275v-1.35M155.5,273v-1.35M155.5,272v-1.35M155.5,270v-1.35M155.5,268v-1.35M155.5,266v-1.35M155.5,264v-1.35M155.5,262v-1.35M155.5,260v-1.35M155.5,257v-1.35M155.5,254v-1.35M155.5,251v-1.35M155.5,248v-1.35M155.5,244v-1.35M157.5,278v-1.35M157.5,276v-1.35M157.5,275v-1.35M157.5,273v-1.35M157.5,271v-1.35M157.5,270v-1.35M158.5,281v-1.35M158.5,279v-1.35M158.5,278v-1.35M160.5,282v-1.35M161.5,284v-1.35M161.5,283v-1.35M162.5,285v-1.35M162.5,283v-1.35M163.5,284v-1.35M163.5,283v-1.35M165.5,277v-1.35M165.5,276v-1.35M165.5,274v-1.35M165.5,273v-1.35M165.5,271v-1.35M165.5,269v-1.35M165.5,267v-1.35M193.5,271v-1.35M193.5,269v-1.35M193.5,268v-1.35M193.5,266v-1.35M193.5,264v-1.35M193.5,263v-1.35M193.5,261v-1.35M193.5,259v-1.35M193.5,256v-1.35M193.5,254v-1.35M193.5,251v-1.35M193.5,248v-1.35M193.5,245v-1.35M193.5,241v-1.35M193.5,237v-1.35M194.5,272v-1.35M194.5,270v-1.35M194.5,269v-1.35M194.5,267v-1.35M194.5,265v-1.35M194.5,263v-1.35M194.5,261v-1.35M194.5,259v-1.35M194.5,257v-1.35M194.5,254v-1.35M194.5,251v-1.35M194.5,248v-1.35M194.5,245v-1.35M194.5,241v-1.35M194.5,237v-1.35M196.5,272v-1.35M196.5,271v-1.35M196.5,269v-1.35M196.5,268v-1.35M196.5,266v-1.35M196.5,264v-1.35M196.5,262v-1.35M196.5,260v-1.35M196.5,257v-1.35M196.5,255v-1.35M196.5,252v-1.35M196.5,249v-1.35M198.5,271v-1.35M198.5,270v-1.35M198.5,268v-1.35M198.5,266v-1.35M198.5,264v-1.35M198.5,263v-1.35M198.5,261v-1.35M198.5,259v-1.35M198.5,256v-1.35M198.5,254v-1.35M198.5,251v-1.35M198.5,248v-1.35M200.5,275v-1.35M200.5,274v-1.35M200.5,272v-1.35M200.5,271v-1.35M200.5,269v-1.35M200.5,267v-1.35M200.5,265v-1.35M200.5,263v-1.35M200.5,260v-1.35M200.5,258v-1.35M200.5,255v-1.35M200.5,253v-1.35M202.5,277v-1.35M202.5,275v-1.35M202.5,274v-1.35M202.5,272v-1.35M204.5,281v-1.35M204.5,280v-1.35M204.5,278v-1.35M206.5,280v-1.35M206.5,279v-1.35M207.5,279v-1.35M207.5,277v-1.35M207.5,276v-1.35M207.5,274v-1.35M207.5,272v-1.35M207.5,270v-1.35M207.5,268v-1.35M207.5,266v-1.35M208.5,282v-1.35M208.5,280v-1.35M208.5,279v-1.35M248.5,276v-1.35M248.5,274v-1.35M248.5,273v-1.35M248.5,271v-1.35M248.5,269v-1.35M248.5,268v-1.35M248.5,266v-1.35M248.5,263v-1.35M248.5,261v-1.35M248.5,258v-1.35M248.5,256v-1.35M248.5,253v-1.35M249.5,278v-1.35M249.5,277v-1.35M249.5,275v-1.35M249.5,273v-1.35M249.5,271v-1.35M251.5,278v-1.35M251.5,277v-1.35M251.5,276v-1.35M251.5,274v-1.35M251.5,272v-1.35M251.5,270v-1.35M251.5,268v-1.35M251.5,266v-1.35M252.5,279v-1.35M252.5,278v-1.35M252.5,276v-1.35M252.5,274v-1.35M252.5,273v-1.35M252.5,271v-1.35" stroke="#ac40e2" stroke-width="1.25" fill="none"/>
<path d="M56.5,232.5h0M56.5,237.5h0M61.5,228.5h0M61.5,234.5h0M61.5,236.5h0M61.5,238.5h0M69.5,238.5h0M117.5,211.5h0M117.5,217.5h0M117.5,220.5h0M117.5,223.5h0M117.5,225.5h0M117.5,227.5h0M117.5,228.5h0M117.5,230.5h0M117.5,233.5h0M117.5,236.5h0M117.5,238.5h0M255.5,217.5h0M255.5,219.5h0M255.5,221.5h0M255.5,224.5h0M255.5,227.5h0M255.5,229.5h0M255.5,231.5h0M255.5,233.5h0M255.5,235.5h0M255.5,237.5h0" stroke="#0a0afc" stroke-width="1.28" stroke-linecap="round" fill="none"/>
<path d="M56.5,275v-1.35M56.5,274v-1.35M56.5,273v-1.35M56.5,271v-1.35M56.5,269v-1.35M56.5,267v-1.35M56.5,266v-1.35M56.5,263v-1.35M56.5,261v-1.35M56.5,259v-1.35M56.5,256v-1.35M56.5,253v-1.35M56.5,250v-1.35M56.5,246v-1.35M56.5,243v-1.35M56.5,238v-1.35M57.5,276v-1.35M57.5,275v-1.35M57.5,274v-1.35M57.5,272v-1.35M57.5,270v-1.35M57.5,268v-1.35M57.5,266v-1.35M57.5,264v-1.35M57.5,261v-1.35M57.5,259v-1.35M57.5,256v-1.35M57.5,254v-1.35M57.5,251v-1.35M58.5,279v-1.35M58.5,278v-1.35M59.5,279v-1.35M59.5,277v-1.35M59.5,276v-1.35M59.5,274v-1.35M59.5,273v-1.35M59.5,271v-1.35M59.5,269v-1.35M59.5,267v-1.35M59.5,265v-1.35M59.5,262v-1.35M60.5,276v-1.35M60.5,275v-1.35M60.5,273v-1.35M60.5,272v-1.35M60.5,270v-1.35M60.5,268v-1.35M60.5,267v-1.35M60.5,264v-1.35M60.5,262v-1.35M60.5,260v-1.35M60.5,257v-1.35M60.5,254v-1.35M60.5,251v-1.35M60.5,248v-1.35M60.5,244v-1.35M60.5,240v-1.35M62.5,279v-1.35M62.5,277v-1.35M62.5,276v-1.35M62.5,274v-1.35M63.5,279v-1.35M63.5,277v-1.35M63.5,276v-1.35M63.5,274v-1.35M64.5,279v-1.35M64.5,278v-1.35M64.5,276v-1.35M64.5,274v-1.35M64.5,272v-1.35M64.5,270v-1.35M64.5,268v-1.35M64.5,266v-1.35M64.5,264v-1.35M65.5,277v-1.35M65.5,276v-1.35M65.5,274v-1.35M65.5,273v-1.35M65.5,271v-1.35M65.5,269v-1.35M65.5,267v-1.35M65.5,265v-1.35M65.5,262v-1.35M65.5,260v-1.35M65.5,257v-1.35M65.5,254v-1.35M67.5,276v-1.35M67.5,275v-1.35M67.5,273v-1.35M67.5,271v-1.35M67.5,270v-1.35M67.5,268v-1.35M67.5,266v-1.35M67.5,264v-1.35M67.5,261v-1.35M69.5,274v-1.35M69.5,272v-1.35M69.5,271v-1.35M69.5,269v-1.35M69.5,267v-1.35M69.5,265v-1.35M69.5,263v-1.35M69.5,261v-1.35M69.5,259v-1.35M69.5,256v-1.35M69.5,253v-1.35M69.5,250v-1.35M69.5,247v-1.35M69.5,244v-1.35M70.5,275v-1.35M70.5,274v-1.35M70.5,272v-1.35M70.5,270v-1.35M70.5,269v-1.35M70.5,267v-1.35M70.5,265v-1.35M70.5,263v-1.35M70.5,261v-1.35M70.5,258v-1.35M70.5,255v-1.35M110.5,280v-1.35M112.5,278v-1.35M112.5,277v-1.35M112.5,275v-1.35M112.5,273v-1.35M112.5,272v-1.35M113.5,279v-1.35M114.5,279v-1.35M114.5,277v-1.35M114.5,276v-1.35M114.5,274v-1.35M116.5,278v-1.35M116.5,277v-1.35M116.5,275v-1.35M116.5,274v-1.35M116.5,272v-1.35M117.5,275v-1.35M117.5,274v-1.35M117.5,272v-1.35M117.5,270v-1.35M117.5,268v-1.35M118.5,275v-1.35M118.5,274v-1.35M118.5,272v-1.35M118.5,270v-1.35M118.5,268v-1.35M118.5,267v-1.35M118.5,264v-1.35M118.5,262v-1.35M118.5,260v-1.35M118.5,257v-1.35M118.5,255v-1.35M118.5,252v-1.35M118.5,249v-1.35M118.5,245v-1.35M118.5,241v-1.35M119.5,277v-1.35M119.5,275v-1.35M119.5,274v-1.35M119.5,273v-1.35M119.5,271v-1.35M119.5,269v-1.35M119.5,267v-1.35M119.5,265v-1.35M119.5,263v-1.35M119.5,260v-1.35M119.5,258v-1.35M119.5,255v-1.35M119.5,252v-1.35M119.5,248v-1.35M119.5,245v-1.35M120.5,279v-1.35M120.5,277v-1.35M120.5,276v-1.35M120.5,274v-1.35M120.5,272v-1.35M120.5,270v-1.35M120.5,268v-1.35M120.5,266v-1.35M121.5,280v-1.35M121.5,278v-1.35M121.5,276v-1.35M122.5,283v-1.35M122.5,281v-1.35M122.5,280v-1.35M123.5,281v-1.35M123.5,279v-1.35M124.5,282v-1.35M126.5,280v-1.35M126.5,279v-1.35M126.5,277v-1.35M126.5,275v-1.35M126.5,274v-1.35M126.5,272v-1.35M126.5,270v-1.35M168.5,278v-1.35M168.5,277v-1.35M168.5,275v-1.35M168.5,273v-1.35M170.5,278v-1.35M170.5,277v-1.35M170.5,275v-1.35M170.5,274v-1.35M170.5,272v-1.35M170.5,270v-1.35M170.5,268v-1.35M172.5,284v-1.35M172.5,282v-1.35M174.5,284v-1.35M210.5,279v-1.35M210.5,277v-1.35M210.5,276v-1.35M210.5,274v-1.35M211.5,278v-1.35M211.5,277v-1.35M211.5,276v-1.35M211.5,274v-1.35M211.5,272v-1.35M211.5,270v-1.35M211.5,268v-1.35M211.5,266v-1.35M211.5,263v-1.35M213.5,282v-1.35M213.5,281v-1.35M213.5,279v-1.35M213.5,277v-1.35M213.5,275v-1.35M213.5,274v-1.35M214.5,282v-1.35M215.5,281v-1.35M215.5,280v-1.35M215.5,279v-1.35M217.5,280v-1.35M217.5,279v-1.35M217.5,277v-1.35M219.5,279v-1.35M219.5,277v-1.35M219.5,276v-1.35M219.5,274v-1.35M219.5,272v-1.35M219.5,270v-1.35M219.5,268v-1.35M221.5,279v-1.35M221.5,278v-1.35M222.5,277v-1.35M222.5,275v-1.35M222.5,274v-1.35M224.5,277v-1.35M225.5,277v-1.35M225.5,275v-1.35M225.5,274v-1.35M225.5,272v-1.35M225.5,270v-1.35M225.5,269v-1.35M225.5,267v-1.35M225.5,265v-1.35M225.5,263v-1.35M254.5,267v-1.35M254.5,266v-1.35M254.5,264v-1.35M254.5,262v-1.35M254.5,261v-1.35M254.5,259v-1.35M254.5,257v-1.35M255.5,262v-1.35M255.5,260v-1.35M255.5,259v-1.35M255.5,257v-1.35M255.5,256v-1.35M255.5,254v-1.35M255.5,251v-1.35M255.5,249v-1.35M255.5,247v-1.35M255.5,245v-1.35M255.5,242v-1.35M255.5,239v-1.35M257.5,264v-1.35M257.5,262v-1.35M257.5,261v-1.35M257.5,259v-1.35M257.5,258v-1.35M257.5,256v-1.35M257.5,254v-1.35M257.5,252v-1.35M259.5,272v-1.35M259.5,271v-1.35M259.5,269v-1.35M259.5,267v-1.35M259.5,266v-1.35M259.5,264v-1.35M260.5,279v-1.35M260.5,278v-1.35M260.5,276v-1.35M260.5,274v-1.35" stroke="#0a0afc" stroke-width="1.25" fill="none"/>
<path d="M74.5,239.5h0M235.5,223.5h0M235.5,225.5h0M235.5,227.5h0M235.5,229.5h0M235.5,233.5h0M235.5,236.5h0M237.5,232.5h0M237.5,236.5h0" stroke="#26962a" stroke-width="1.28" stroke-linecap="round" fill="none"/>
<path d="M71.5,276v-1.35M71.5,275v-1.35M71.5,274v-1.35M71.5,272v-1.35M71.5,270v-1.35M71.5,268v-1.35M71.5,266v-1.35M71.5,264v-1.35M71.5,261v-1.35M71.5,259v-1.35M71.5,256v-1.35M71.5,253v-1.35M71.5,250v-1.35M71.5,247v-1.35M71.5,243v-1.35M73.5,278v-1.35M73.5,276v-1.35M73.5,275v-1.35M73.5,273v-1.35M73.5,271v-1.35M73.5,269v-1.35M73.5,267v-1.35M74.5,277v-1.35M74.5,276v-1.35M74.5,274v-1.35M74.5,273v-1.35M74.5,271v-1.35M74.5,269v-1.35M74.5,267v-1.35M74.5,265v-1.35M74.5,262v-1.35M74.5,260v-1.35M74.5,257v-1.35M74.5,254v-1.35M74.5,251v-1.35M74.5,247v-1.35M74.5,243v-1.35M75.5,278v-1.35M75.5,276v-1.35M75.5,275v-1.35M75.5,273v-1.35M75.5,271v-1.35M75.5,269v-1.35M75.5,267v-1.35M75.5,265v-1.35M75.5,263v-1.35M76.5,279v-1.35M77.5,281v-1.35M77.5,279v-1.35M77.5,278v-1.35M77.5,276v-1.35M78.5,282v-1.35M78.5,280v-1.35M78.5,279v-1.35M79.5,279v-1.35M79.5,278v-1.35M79.5,276v-1.35M79.5,275v-1.35M80.5,279v-1.35M80.5,277v-1.35M80.5,276v-1.35M80.5,274v-1.35M80.5,272v-1.35M80.5,271v-1.35M80.5,269v-1.35M80.5,266v-1.35M80.5,264v-1.35M80.5,261v-1.35M80.5,259v-1.35M80.5,255v-1.35M80.5,252v-1.35M80.5,248v-1.35M81.5,279v-1.35M81.5,278v-1.35M81.5,276v-1.35M81.5,274v-1.35M81.5,273v-1.35M81.5,271v-1.35M81.5,269v-1.35M82.5,280v-1.35M82.5,278v-1.35M82.5,277v-1.35M82.5,275v-1.35M82.5,273v-1.35M82.5,272v-1.35M83.5,282v-1.35M83.5,280v-1.35M83.5,279v-1.35M128.5,281v-1.35M128.5,279v-1.35M128.5,278v-1.35M128.5,276v-1.35M129.5,279v-1.35M129.5,277v-1.35M129.5,276v-1.35M129.5,274v-1.35M130.5,277v-1.35M130.5,275v-1.35M130.5,274v-1.35M130.5,272v-1.35M130.5,270v-1.35M130.5,268v-1.35M130.5,266v-1.35M130.5,264v-1.35M130.5,261v-1.35M130.5,259v-1.35M130.5,256v-1.35M130.5,254v-1.35M130.5,251v-1.35M131.5,281v-1.35M131.5,280v-1.35M131.5,278v-1.35M131.5,277v-1.35M131.5,275v-1.35M131.5,273v-1.35M132.5,284v-1.35M132.5,283v-1.35M132.5,281v-1.35M134.5,284v-1.35M136.5,281v-1.35M136.5,279v-1.35M136.5,278v-1.35M136.5,276v-1.35M136.5,274v-1.35M136.5,272v-1.35M137.5,280v-1.35M137.5,278v-1.35M137.5,277v-1.35M137.5,275v-1.35M137.5,273v-1.35M137.5,272v-1.35M137.5,269v-1.35M137.5,267v-1.35M137.5,265v-1.35M137.5,263v-1.35M137.5,260v-1.35M138.5,278v-1.35M138.5,276v-1.35M139.5,279v-1.35M139.5,278v-1.35M139.5,276v-1.35M140.5,281v-1.35M140.5,279v-1.35M140.5,278v-1.35M175.5,282v-1.35M175.5,281v-1.35M177.5,280v-1.35M178.5,281v-1.35M178.5,279v-1.35M181.5,276v-1.35M181.5,275v-1.35M181.5,273v-1.35M181.5,271v-1.35M181.5,270v-1.35M181.5,268v-1.35M182.5,276v-1.35M182.5,275v-1.35M182.5,273v-1.35M227.5,279v-1.35M227.5,278v-1.35M227.5,276v-1.35M227.5,274v-1.35M227.5,273v-1.35M227.5,271v-1.35M229.5,277v-1.35M229.5,275v-1.35M229.5,274v-1.35M229.5,272v-1.35M229.5,270v-1.35M229.5,268v-1.35M229.5,266v-1.35M229.5,264v-1.35M229.5,262v-1.35M229.5,259v-1.35M230.5,280v-1.35M230.5,279v-1.35M230.5,277v-1.35M230.5,275v-1.35M230.5,273v-1.35M232.5,277v-1.35M232.5,276v-1.35M232.5,274v-1.35M232.5,272v-1.35M232.5,270v-1.35M232.5,269v-1.35M234.5,269v-1.35M234.5,267v-1.35M234.5,266v-1.35M234.5,264v-1.35M234.5,262v-1.35M234.5,260v-1.35M234.5,259v-1.35M234.5,256v-1.35M234.5,254v-1.35M234.5,252v-1.35M235.5,267v-1.35M235.5,266v-1.35M235.5,264v-1.35M235.5,263v-1.35M235.5,261v-1.35M235.5,259v-1.35M235.5,257v-1.35M235.5,255v-1.35M235.5,253v-1.35M235.5,250v-1.35M235.5,247v-1.35M235.5,244v-1.35M235.5,241v-1.35M235.5,238v-1.35M236.5,266v-1.35M236.5,264v-1.35M236.5,263v-1.35M236.5,261v-1.35M236.5,259v-1.35M236.5,257v-1.35M236.5,255v-1.35M236.5,253v-1.35M236.5,251v-1.35M236.5,248v-1.35M236.5,245v-1.35M236.5,242v-1.35M236.5,239v-1.35M238.5,269v-1.35M238.5,268v-1.35M238.5,266v-1.35M238.5,264v-1.35M238.5,262v-1.35M238.5,261v-1.35M238.5,259v-1.35M238.5,256v-1.35" stroke="#26962a" stroke-width="1.25" fill="none"/>
<path d="M153.5,226.5h0M153.5,229.5h0M153.5,232.5h0M153.5,234.5h0M153.5,236.5h0M153.5,238.5h0M185.5,198.5h0M185.5,200.5h0M185.5,201.5h0M185.5,205.5h0M185.5,213.5h0M185.5,218.5h0M185.5,221.5h0M185.5,224.5h0M185.5,226.5h0M185.5,228.5h0M185.5,231.5h0M185.5,233.5h0M185.5,236.5h0" stroke="#ca8e10" stroke-width="1.28" stroke-linecap="round" fill="none"/>
<path d="M84.5,285v-1.35M84.5,283v-1.35M86.5,282v-1.35M87.5,283v-1.35M88.5,284v-1.35M88.5,283v-1.35M88.5,281v-1.35M90.5,282v-1.35M90.5,281v-1.35M90.5,279v-1.35M90.5,278v-1.35M90.5,276v-1.35M90.5,274v-1.35M91.5,283v-1.35M91.5,281v-1.35M91.5,280v-1.35M91.5,278v-1.35M91.5,277v-1.35M91.5,275v-1.35M91.5,273v-1.35M91.5,271v-1.35M91.5,268v-1.35M93.5,282v-1.35M93.5,281v-1.35M95.5,280v-1.35M95.5,278v-1.35M95.5,277v-1.35M95.5,275v-1.35M95.5,273v-1.35M95.5,271v-1.35M95.5,269v-1.35M97.5,281v-1.35M97.5,279v-1.35M97.5,278v-1.35M97.5,276v-1.35M97.5,274v-1.35M97.5,273v-1.35M97.5,271v-1.35M97.5,268v-1.35M97.5,266v-1.35M97.5,263v-1.35M97.5,260v-1.35M97.5,257v-1.35M99.5,280v-1.35M99.5,279v-1.35M99.5,277v-1.35M99.5,275v-1.35M99.5,274v-1.35M99.5,272v-1.35M99.5,270v-1.35M99.5,267v-1.35M99.5,265v-1.35M99.5,263v-1.35M99.5,260v-1.35M99.5,257v-1.35M99.5,254v-1.35M99.5,250v-1.35M142.5,279v-1.35M142.5,278v-1.35M142.5,276v-1.35M142.5,274v-1.35M143.5,277v-1.35M143.5,275v-1.35M143.5,274v-1.35M143.5,272v-1.35M143.5,270v-1.35M143.5,268v-1.35M145.5,277v-1.35M145.5,276v-1.35M145.5,274v-1.35M145.5,273v-1.35M145.5,271v-1.35M145.5,269v-1.35M145.5,267v-1.35M145.5,264v-1.35M147.5,281v-1.35M147.5,279v-1.35M147.5,278v-1.35M150.5,281v-1.35M150.5,280v-1.35M150.5,278v-1.35M152.5,279v-1.35M152.5,277v-1.35M152.5,276v-1.35M152.5,274v-1.35M152.5,272v-1.35M152.5,270v-1.35M152.5,268v-1.35M152.5,266v-1.35M152.5,264v-1.35M152.5,262v-1.35M153.5,273v-1.35M153.5,272v-1.35M153.5,270v-1.35M153.5,268v-1.35M153.5,267v-1.35M153.5,265v-1.35M153.5,263v-1.35M153.5,260v-1.35M153.5,258v-1.35M153.5,255v-1.35M153.5,253v-1.35M153.5,249v-1.35M153.5,247v-1.35M153.5,243v-1.35M153.5,239v-1.35M184.5,271v-1.35M184.5,270v-1.35M184.5,268v-1.35M184.5,267v-1.35M184.5,265v-1.35M184.5,263v-1.35M184.5,261v-1.35M184.5,259v-1.35M184.5,256v-1.35M184.5,254v-1.35M184.5,251v-1.35M184.5,248v-1.35M184.5,245v-1.35M184.5,242v-1.35M184.5,238v-1.35M186.5,275v-1.35M186.5,273v-1.35M186.5,272v-1.35M186.5,270v-1.35M186.5,268v-1.35M186.5,266v-1.35M186.5,264v-1.35M187.5,278v-1.35M187.5,277v-1.35M187.5,275v-1.35M187.5,274v-1.35M187.5,272v-1.35M187.5,270v-1.35M187.5,268v-1.35M189.5,276v-1.35M189.5,274v-1.35M189.5,273v-1.35M190.5,274v-1.35M190.5,273v-1.35M190.5,271v-1.35M190.5,269v-1.35M190.5,267v-1.35M191.5,275v-1.35M191.5,273v-1.35M191.5,271v-1.35M191.5,270v-1.35M240.5,269v-1.35M240.5,267v-1.35M240.5,266v-1.35M241.5,269v-1.35M241.5,267v-1.35M241.5,266v-1.35M241.5,264v-1.35M241.5,263v-1.35M241.5,261v-1.35M241.5,259v-1.35M241.5,257v-1.35M241.5,254v-1.35M241.5,252v-1.35M242.5,271v-1.35M242.5,269v-1.35M242.5,268v-1.35M242.5,266v-1.35M242.5,264v-1.35M242.5,262v-1.35M242.5,261v-1.35M242.5,258v-1.35M242.5,256v-1.35M242.5,254v-1.35M242.5,252v-1.35M242.5,248v-1.35M242.5,245v-1.35M243.5,274v-1.35M243.5,272v-1.35M243.5,271v-1.35M243.5,269v-1.35M243.5,267v-1.35M243.5,265v-1.35M243.5,263v-1.35M243.5,261v-1.35M244.5,274v-1.35M244.5,273v-1.35M244.5,271v-1.35M244.5,269v-1.35M244.5,268v-1.35M245.5,278v-1.35M245.5,276v-1.35M245.5,275v-1.35M247.5,280v-1.35M247.5,278v-1.35M247.5,277v-1.35M247.5,275v-1.35" stroke="#ca8e10" stroke-width="1.25" fill="none"/>
<line x1="21.4" y1="228.25" x2="270.2" y2="228.25" stroke="#ff8a8a" stroke-width="1"/>
<rect x="21.4" y="178.9" width="248.8" height="118.55" fill="none" stroke="#a2a2a2" stroke-width="0.9"/>
<text transform="translate(15.9,293.3) rotate(-90) scale(.1)" text-anchor="middle" class="t">0.0</text>
<text transform="translate(15.9,277) rotate(-90) scale(.1)" text-anchor="middle" class="t">0.1</text>
<text transform="translate(15.9,260.8) rotate(-90) scale(.1)" text-anchor="middle" class="t">0.2</text>
<text transform="translate(15.9,244.5) rotate(-90) scale(.1)" text-anchor="middle" class="t">0.3</text>
<text transform="translate(15.9,228.2) rotate(-90) scale(.1)" text-anchor="middle" class="t">0.4</text>
<text transform="translate(15.9,212) rotate(-90) scale(.1)" text-anchor="middle" class="t">0.5</text>
<text transform="translate(15.9,195.7) rotate(-90) scale(.1)" text-anchor="middle" class="t">0.6</text>
<text transform="translate(15.9,179.4) rotate(-90) scale(.1)" text-anchor="middle" class="t">0.7</text>
<path d="M21.4,293.3h-2.4M21.4,277h-2.4M21.4,260.8h-2.4M21.4,244.5h-2.4M21.4,228.2h-2.4M21.4,212h-2.4M21.4,195.7h-2.4M21.4,179.4h-2.4M21.4,179.4V293.3" stroke="#707070" stroke-width="0.6" fill="none"/>
<text transform="translate(43.4,306.1) scale(.1)" text-anchor="middle" class="t">1</text>
<text transform="translate(63.9,306.1) scale(.1)" text-anchor="middle" class="t">2</text>
<text transform="translate(77.6,306.1) scale(.1)" text-anchor="middle" class="t">3</text>
<text transform="translate(92,306.1) scale(.1)" text-anchor="middle" class="t">4</text>
<text transform="translate(104.8,306.1) scale(.1)" text-anchor="middle" class="t">5</text>
<text transform="translate(118.3,306.1) scale(.1)" text-anchor="middle" class="t">6</text>
<text transform="translate(134.1,306.1) scale(.1)" text-anchor="middle" class="t">7</text>
<text transform="translate(147.8,306.1) scale(.1)" text-anchor="middle" class="t">8</text>
<text transform="translate(161.2,306.1) scale(.1)" text-anchor="middle" class="t">9</text>
<text transform="translate(171.5,306.1) scale(.1)" text-anchor="middle" class="t">10</text>
<text transform="translate(179.8,306.1) scale(.1)" text-anchor="middle" class="t">11</text>
<text transform="translate(188,306.1) scale(.1)" text-anchor="middle" class="t">12</text>
<text transform="translate(200.4,306.1) scale(.1)" text-anchor="middle" class="t">13</text>
<text transform="translate(217.6,306.1) scale(.1)" text-anchor="middle" class="t">14</text>
<text transform="translate(232.5,306.1) scale(.1)" text-anchor="middle" class="t">15</text>
<text transform="translate(243.3,306.1) scale(.1)" text-anchor="middle" class="t">16</text>
<text transform="translate(251.3,306.1) scale(.1)" text-anchor="middle" class="t">17</text>
<path d="M43.4,297.45v2.4M63.9,297.45v2.4M77.6,297.45v2.4M92,297.45v2.4M104.8,297.45v2.4M118.3,297.45v2.4M134.1,297.45v2.4M147.8,297.45v2.4M161.2,297.45v2.4M171.5,297.45v2.4M179.8,297.45v2.4M188,297.45v2.4M200.4,297.45v2.4M217.6,297.45v2.4M232.5,297.45v2.4M243.3,297.45v2.4M251.3,297.45v2.4M257.8,297.45v2.4M43.4,297.45H257.8" stroke="#8c8c8c" stroke-width="0.55" fill="none"/>
<text transform="translate(145.5,314.9) scale(.1)" text-anchor="middle" class="t">Chromosome</text>
<text transform="translate(6.1,238.2) rotate(-90) scale(.1)" text-anchor="middle" class="t">SNPvar (%)</text>
<text transform="translate(9.6,170.6) scale(.1)" class="pl">(c)</text>
</g>
<g>
<path d="M307,294.1V282.2H307.5V281.7H308V280.5H308.5V280.9H309V280.9H309.5V282.9H310V281.8H310.5V285.8H311V285H311.5V284.6H312V286.4H312.5V286.3H313V287.9H313.5V288.9H314V287.7H314.5V288.8H315V287H315.5V288.3H316V286.6H316.5V284.6H317V283.6H317.5V281.3H318V281.5H318.5V281.3H319V282.3H319.5V283.8H320V284H320.5V286.1H321V286.6H321.5V286.7H322V284.6H322.5V285.8H323V284.7H323.5V285H324V284.4H324.5V282.7H325V281.1H325.5V282.4H326V281.5H326.5V281H327V280.8H327.5V281.3H328V279H328.5V278.7H329V279H329.5V280.4H330V281H330.5V280.8H331V280.2H331.5V280.9H332V278.5H332.5V279.8H333V294.1ZM376.6,294.1V282H377.1V282.4H377.59V282.6H378.09V283.5H378.58V281.5H379.08V282.3H379.57V282H380.07V282.6H380.56V281.7H381.06V281.6H381.55V283H382.05V280.4H382.54V277.4H383.04V275H383.53V273.6H384.03V274.5H384.52V276.7H385.02V276.9H385.51V278.4H386.01V279.8H386.5V281.4H387V294.1ZM431.4,294.1V276.8H431.89V276.1H432.38V277.2H432.88V278.5H433.37V281.3H433.86V280.7H434.35V283.8H434.85V283.4H435.34V283.1H435.83V283.4H436.32V283.7H436.82V285.4H437.31V284.8H437.8V286.1H438.29V285.5H438.78V285.9H439.28V285.3H439.77V285.9H440.26V285.2H440.75V285.3H441.25V282.4H441.74V283.2H442.23V281.4H442.72V280.1H443.22V279.9H443.71V281.3H444.2V294.1ZM468.6,294.1V278H469.1V277.6H469.59V279.2H470.09V278.3H470.59V280.2H471.09V279.2H471.58V278.9H472.08V278H472.58V276.2H473.07V275.4H473.57V277.9H474.07V276.3H474.57V274.2H475.06V274.1H475.56V275.1H476.06V274.5H476.55V275.5H477.05V278.4H477.55V279.2H478.05V280.2H478.54V281.9H479.04V283.7H479.54V283.5H480.03V283.4H480.53V283.3H481.03V283.5H481.53V285.8H482.02V284.9H482.52V284.2H483.02V283.5H483.51V284H484.01V284.1H484.51V283.4H485.01V285H485.5V285.5H486V294.1ZM524.6,294.1V279.7H525.09V279.5H525.57V281H526.06V279.7H526.54V280.8H527.03V280.4H527.51V281.4H528V281.7H528.49V280.6H528.97V280.3H529.46V280.9H529.94V279.2H530.43V280.8H530.91V278.1H531.4V294.1Z" fill="#ac40e2"/>
<path d="M333,294.1V277.8H333.5V277H333.99V277.5H334.49V275.9H334.99V276.6H335.48V276.4H335.98V275.7H336.48V274.6H336.97V275.2H337.47V273.4H337.97V275.4H338.46V276.5H338.96V276.3H339.46V275.2H339.95V275.3H340.45V274.6H340.95V274.8H341.45V275H341.94V275.4H342.44V274.8H342.94V276.7H343.43V275.2H343.93V277.1H344.43V275.5H344.92V276.5H345.42V277H345.92V277.5H346.41V279H346.91V282.2H347.41V281.5H347.9V283.1H348.4V294.1ZM387,294.1V279.9H387.5V279.4H388.01V280.5H388.51V280.3H389.01V280.7H389.52V279.7H390.02V277.5H390.52V278.8H391.02V278.8H391.53V278.2H392.03V278.5H392.53V280H393.04V280.9H393.54V280.5H394.04V278.1H394.55V279.2H395.05V279.1H395.55V279.5H396.05V279.2H396.56V279H397.06V276.4H397.56V278.1H398.07V278.6H398.57V279.8H399.07V281.8H399.58V280.5H400.08V279.5H400.58V282.1H401.08V282.2H401.59V284.5H402.09V282.1H402.59V282.4H403.1V282.4H403.6V294.1ZM444.2,294.1V281.7H444.71V281.6H445.22V280H445.74V279.9H446.25V279.8H446.76V278.1H447.27V280H447.79V276H448.3V276.5H448.81V277.8H449.32V279.1H449.84V283.2H450.35V283.6H450.86V283.8H451.37V286H451.89V285.1H452.4V294.1ZM486,294.1V285.4H486.5V285.3H487V283.5H487.5V285.9H488V283.7H488.5V284.6H489V283.2H489.5V283.2H490V282H490.5V282.4H491V282.6H491.5V284.5H492V283.1H492.5V284.1H493V284H493.5V281.8H494V282.4H494.5V280.5H495V279.9H495.5V278.5H496V275.5H496.5V275.1H497V274.7H497.5V273.4H498V274.2H498.5V274.7H499V276.2H499.5V276.4H500V275.7H500.5V276H501V276.5H501.5V279H502V280.4H502.5V283.2H503V294.1ZM531.4,294.1V279H531.91V276.9H532.43V276.6H532.94V274.8H533.46V275.3H533.97V274.9H534.49V275.2H535V274.7H535.51V273.5H536.03V274.9H536.54V275.5H537.06V275.9H537.57V277.1H538.09V279.6H538.6V294.1Z" fill="#0a0afc"/>
<path d="M348.4,294.1V281.6H348.9V278.9H349.41V277.2H349.91V276.3H350.42V275.7H350.92V275.6H351.42V275.7H351.93V276.1H352.43V277.2H352.94V278.4H353.44V279.7H353.94V281.5H354.45V280.3H354.95V282H355.46V283.2H355.96V282.8H356.46V281.9H356.97V281.3H357.47V281.4H357.98V281H358.48V279.3H358.98V279.6H359.49V279.5H359.99V279.4H360.5V278.4H361V294.1ZM403.6,294.1V283.6H404.09V283.6H404.59V282.8H405.08V285.2H405.57V283.9H406.07V281.5H406.56V281.7H407.05V279.4H407.55V280.7H408.04V282.1H408.53V280.7H409.03V283.8H409.52V284.4H410.01V284.4H410.51V284.8H411V284.9H411.49V284.6H411.99V285H412.48V284H412.97V282.4H413.47V281H413.96V280.1H414.45V278.6H414.95V279.7H415.44V278.7H415.93V280.5H416.43V281.2H416.92V281.2H417.41V282.7H417.91V285.6H418.4V294.1ZM452.4,294.1V283.3H452.91V282.1H453.41V282.4H453.92V280.8H454.42V280.2H454.93V280.7H455.44V282.9H455.94V283H456.45V283.1H456.95V283.2H457.46V281.9H457.96V280.5H458.47V280.2H458.98V279.3H459.48V280.8H459.99V281.6H460.49V280H461V294.1ZM503,294.1V283.6H503.5V284H504V282.7H504.5V282.1H505V282.4H505.5V284.4H506V283.5H506.5V285.9H507V284H507.5V286H508V286.4H508.5V284.4H509V283.6H509.5V283.2H510V280.2H510.5V281.6H511V283.6H511.5V282.4H512V283.1H512.5V284.3H513V284H513.5V284H514V284.4H514.5V282.9H515V281.8H515.5V282.5H516V294.1Z" fill="#26962a"/>
<path d="M361,294.1V284.9H361.5V286.2H362.01V285.2H362.51V287.3H363.01V286H363.52V285.6H364.02V285.8H364.52V284H365.03V285.3H365.53V283.5H366.03V283.7H366.54V284.4H367.04V284.4H367.54V285.1H368.05V285H368.55V285.2H369.05V283.1H369.55V280.7H370.06V278.8H370.56V277.4H371.06V276.6H371.57V277.5H372.07V276.4H372.57V275.6H373.08V276.7H373.58V276.4H374.08V275.5H374.59V275.7H375.09V274.9H375.59V274.5H376.1V277.3H376.6V294.1ZM418.4,294.1V283.7H418.9V283.4H419.4V284.1H419.9V285.1H420.4V283.6H420.9V282.3H421.4V284.8H421.9V284.7H422.4V285.6H422.9V286.3H423.4V286.3H423.9V287.7H424.4V286.8H424.9V287.2H425.4V286.5H425.9V287.1H426.4V286.8H426.9V286.3H427.4V287.1H427.9V285.3H428.4V285.2H428.9V283.1H429.4V280.2H429.9V277.2H430.4V274.8H430.9V274.1H431.4V294.1ZM461,294.1V277.2H461.51V273.9H462.01V274.1H462.52V276.2H463.03V278.3H463.53V280.8H464.04V280.9H464.55V280.6H465.05V281.1H465.56V283.7H466.07V281.2H466.57V282.6H467.08V282.7H467.59V280.1H468.09V280.5H468.6V294.1ZM516,294.1V283.4H516.51V279.8H517.01V281H517.52V278.9H518.02V279.9H518.53V280H519.04V277.8H519.54V278.1H520.05V279.9H520.55V278.9H521.06V279.4H521.56V277.4H522.07V279.3H522.58V279.4H523.08V281.2H523.59V280.1H524.09V279.7H524.6V294.1Z" fill="#ca8e10"/>
<path d="M309.5,281.4V285.2M323.5,283.5V286.2M325.5,280.9V285.7M327.5,279.8V283.3M328.8,282.5v1.1M329.5,283.9v.9M330.5,279.3V283.9M331.2,284.7v.7M332.5,278.3V282M333.5,275.5V281.1M336.2,276.9v1.1M336.2,283v.7M337.2,275.3v.9M337.2,285.4v1.1M338.5,275V279.7M339.2,281.1v.9M339.2,286.1v1.1M340.5,273.1V278.4M342.5,273.3V279.1M343.8,278.6v1.1M343.8,287.1v.9M344.5,274V283.4M346.8,279.6v1.1M347.5,280V284M347.5,283.6v.9M350.8,284.4v.9M351.5,274.2V282.6M351.2,283.1v.9M352.8,285.2v.9M353.5,278.2V281.6M359.5,278V282.7M360.8,279v.9M365.5,282V285.1M367.2,285.7v.9M369.5,279.2V282M373.5,278.9v.9M374.8,276.3v.9M374.8,278.3v.9M374.5,279.6v1.1M376.2,281.5v.9M376.5,282.8v.9M377.5,281.1V284.1M377.2,283.2v.7M378.5,282.1v.7M382.5,275.9V285.4M382.2,280.5v.7M382.2,283.8v1.1M382.8,286.9v1.1M385.5,276.9V283.8M385.8,284.4v1.1M387.2,281.4v.9M387.8,284.7v.7M389.5,282.2v1.1M390.5,277.3V282.3M390.5,281.1v1.1M391.5,280.4v1.1M392.5,286.5v.9M393.5,279V284M394.5,282.8v1.1M394.5,286.3v1.1M395.5,278V283.3M395.5,281.8v.7M397.2,284v.9M398.8,280.4v1.1M398.5,281.9v.7M399.8,281.1v.9M403.5,280.9V285.3M403.8,283v1.1M404.5,281.3V285M406.5,280.2V282.8M407.2,281.3v1.1M407.8,283v1.1M407.5,284.4v.7M408.5,279.2V284M411.5,283.1V285.3M412.5,284.6v1.1M413.5,279.5V282.9M413.2,281.6v1.1M416.5,279.7V282.9M416.8,281.8v.9M421.5,283.3V286.7M429.8,280.8v1.1M431.5,275.3V283.4M431.5,279.4v.7M432.5,279.2v1.1M433.8,285.4v.9M434.5,282.3V285.6M436.5,282.2V284.4M437.5,287v.9M444.5,280.1V285.6M446.5,278.3V282.6M447.5,284.3v1.1M450.5,282.1V284.5M455.5,281.4V284.5M457.5,280.4V284.8M460.5,278.5V285M462.2,280.1v.9M462.5,282.9v.9M464.8,281.2v.9M464.5,286v.7M465.5,282.2V284.8M466.8,284.4v.9M467.5,278.6V281.7M468.8,281.1v.9M469.5,277.7V284.2M474.5,272.7V281.6M474.5,278.1v.9M475.8,275.7v.9M476.5,274V280.6M476.2,282.6v1.1M481.5,284.3V287.1M488.8,285.2v.7M490.8,286.2v.7M492.5,282.6V285M494.5,282.6v.9M495.5,277V281M495.5,284.7v.7M496.5,275.7v1.1M497.5,271.9V278.4M497.2,276.8v1.1M498.5,281.1v.9M499.2,277v1.1M500.5,274.5V284.3M500.5,281.1v1.1M501.8,279.6v.9M503.5,282.5V285.1M509.5,281.7V285.2M510.2,284.2v1.1M511.5,280.9V284.1M511.2,286.1v.9M514.5,281.4V284.7M516.8,280.4v.9M516.2,282.3v1.1M518.5,278.5V282.6M518.5,280.6v1.1M518.8,282.1v.7M519.2,278.7v.9M520.5,277.4V282.5M526.5,279.3V284.5M526.2,283.2v.9M528.5,279.1V282.5M531.8,279.6v.9M532.5,283.5v.9M538.8,283.4v.7" stroke="#fff" stroke-width="0.72" fill="none"/>
<path d="M308.5,206.5h0M308.5,215.5h0M308.5,217.5h0M308.5,219.5h0M308.5,226.5h0M308.5,228.5h0M308.5,229.5h0M308.5,233.5h0M308.5,236.5h0M308.5,238.5h0M308.5,243.5h0M308.5,250.5h0M308.5,256.5h0M308.5,260.5h0M308.5,267.5h0M474.5,221.5h0M474.5,228.5h0M474.5,235.5h0" stroke="#ac40e2" stroke-width="1.28" stroke-linecap="round" fill="none"/>
<path d="M307.5,282v-1.35M307.5,280v-1.35M307.5,279v-1.35M307.5,277v-1.35M307.5,275v-1.35M307.5,273v-1.35M307.5,271v-1.35M307.5,269v-1.35M307.5,267v-1.35M307.5,264v-1.35M307.5,262v-1.35M307.5,259v-1.35M308.5,281v-1.35M308.5,279v-1.35M308.5,278v-1.35M308.5,276v-1.35M308.5,274v-1.35M308.5,273v-1.35M308.5,271v-1.35M308.5,268v-1.35M308.5,266v-1.35M308.5,264v-1.35M308.5,261v-1.35M308.5,258v-1.35M308.5,255v-1.35M308.5,252v-1.35M308.5,248v-1.35M308.5,244v-1.35M308.5,240v-1.35M310.5,286v-1.35M310.5,284v-1.35M310.5,283v-1.35M310.5,281v-1.35M311.5,284v-1.35M312.5,286v-1.35M315.5,288v-1.35M315.5,287v-1.35M317.5,281v-1.35M317.5,280v-1.35M317.5,278v-1.35M317.5,277v-1.35M317.5,275v-1.35M317.5,273v-1.35M317.5,271v-1.35M317.5,269v-1.35M318.5,281v-1.35M318.5,280v-1.35M318.5,278v-1.35M318.5,277v-1.35M318.5,275v-1.35M318.5,273v-1.35M318.5,271v-1.35M318.5,269v-1.35M318.5,266v-1.35M318.5,264v-1.35M318.5,261v-1.35M319.5,284v-1.35M319.5,282v-1.35M319.5,281v-1.35M319.5,279v-1.35M319.5,278v-1.35M319.5,276v-1.35M319.5,274v-1.35M319.5,272v-1.35M320.5,286v-1.35M321.5,287v-1.35M321.5,285v-1.35M324.5,282v-1.35M324.5,281v-1.35M324.5,280v-1.35M326.5,281v-1.35M328.5,279v-1.35M329.5,280v-1.35M329.5,279v-1.35M329.5,277v-1.35M331.5,281v-1.35M331.5,279v-1.35M378.5,281v-1.35M378.5,280v-1.35M378.5,278v-1.35M379.5,282v-1.35M379.5,280v-1.35M379.5,279v-1.35M379.5,277v-1.35M379.5,275v-1.35M379.5,273v-1.35M379.5,271v-1.35M379.5,269v-1.35M379.5,267v-1.35M380.5,282v-1.35M380.5,280v-1.35M380.5,279v-1.35M381.5,283v-1.35M381.5,281v-1.35M381.5,280v-1.35M383.5,273v-1.35M383.5,272v-1.35M383.5,270v-1.35M383.5,269v-1.35M383.5,267v-1.35M384.5,277v-1.35M384.5,275v-1.35M384.5,274v-1.35M384.5,272v-1.35M384.5,270v-1.35M384.5,268v-1.35M384.5,266v-1.35M386.5,281v-1.35M386.5,280v-1.35M386.5,278v-1.35M433.5,281v-1.35M433.5,280v-1.35M433.5,278v-1.35M433.5,276v-1.35M433.5,275v-1.35M433.5,273v-1.35M433.5,271v-1.35M433.5,269v-1.35M435.5,283v-1.35M435.5,281v-1.35M435.5,280v-1.35M438.5,285v-1.35M439.5,285v-1.35M440.5,285v-1.35M442.5,280v-1.35M442.5,278v-1.35M442.5,277v-1.35M442.5,275v-1.35M443.5,281v-1.35M443.5,280v-1.35M443.5,278v-1.35M443.5,277v-1.35M443.5,275v-1.35M443.5,273v-1.35M443.5,271v-1.35M443.5,268v-1.35M443.5,266v-1.35M443.5,263v-1.35M470.5,280v-1.35M470.5,279v-1.35M470.5,277v-1.35M470.5,275v-1.35M471.5,279v-1.35M471.5,277v-1.35M472.5,276v-1.35M472.5,275v-1.35M472.5,273v-1.35M472.5,272v-1.35M475.5,275v-1.35M475.5,273v-1.35M475.5,272v-1.35M475.5,270v-1.35M475.5,268v-1.35M475.5,266v-1.35M475.5,264v-1.35M475.5,262v-1.35M475.5,259v-1.35M475.5,257v-1.35M475.5,254v-1.35M475.5,251v-1.35M475.5,248v-1.35M475.5,244v-1.35M475.5,241v-1.35M477.5,279v-1.35M477.5,277v-1.35M477.5,276v-1.35M477.5,274v-1.35M477.5,272v-1.35M477.5,270v-1.35M478.5,282v-1.35M478.5,280v-1.35M479.5,283v-1.35M479.5,282v-1.35M479.5,281v-1.35M479.5,279v-1.35M480.5,283v-1.35M480.5,282v-1.35M480.5,280v-1.35M482.5,284v-1.35M482.5,283v-1.35M483.5,284v-1.35M483.5,282v-1.35M484.5,283v-1.35M484.5,282v-1.35M484.5,280v-1.35M484.5,279v-1.35M485.5,285v-1.35M525.5,281v-1.35M525.5,279v-1.35M525.5,278v-1.35M527.5,281v-1.35M529.5,281v-1.35" stroke="#ac40e2" stroke-width="1.25" fill="none"/>
<path d="M391.5,234.5h0M391.5,241.5h0M391.5,250.5h0M391.5,252.5h0M391.5,257.5h0M391.5,260.5h0M391.5,264.5h0M391.5,267.5h0M391.5,271.5h0M448.5,201.5h0M448.5,203.5h0M448.5,205.5h0M448.5,208.5h0M448.5,219.5h0M448.5,221.5h0M448.5,230.5h0M448.5,235.5h0" stroke="#0a0afc" stroke-width="1.28" stroke-linecap="round" fill="none"/>
<path d="M334.5,276v-1.35M334.5,274v-1.35M334.5,273v-1.35M334.5,271v-1.35M334.5,269v-1.35M334.5,268v-1.35M334.5,266v-1.35M334.5,264v-1.35M334.5,261v-1.35M334.5,259v-1.35M335.5,276v-1.35M335.5,275v-1.35M336.5,274v-1.35M336.5,273v-1.35M336.5,272v-1.35M336.5,270v-1.35M336.5,268v-1.35M336.5,266v-1.35M336.5,264v-1.35M337.5,273v-1.35M337.5,272v-1.35M337.5,270v-1.35M337.5,269v-1.35M337.5,267v-1.35M337.5,265v-1.35M337.5,263v-1.35M337.5,261v-1.35M337.5,259v-1.35M337.5,256v-1.35M337.5,253v-1.35M337.5,250v-1.35M337.5,247v-1.35M339.5,275v-1.35M339.5,274v-1.35M339.5,272v-1.35M339.5,270v-1.35M339.5,268v-1.35M339.5,267v-1.35M339.5,265v-1.35M339.5,262v-1.35M339.5,260v-1.35M341.5,275v-1.35M341.5,273v-1.35M341.5,272v-1.35M341.5,270v-1.35M341.5,268v-1.35M341.5,266v-1.35M341.5,264v-1.35M341.5,262v-1.35M341.5,260v-1.35M341.5,257v-1.35M341.5,254v-1.35M341.5,251v-1.35M343.5,275v-1.35M343.5,273v-1.35M343.5,272v-1.35M343.5,270v-1.35M345.5,277v-1.35M345.5,275v-1.35M345.5,274v-1.35M345.5,272v-1.35M345.5,270v-1.35M345.5,268v-1.35M346.5,279v-1.35M346.5,277v-1.35M387.5,279v-1.35M387.5,278v-1.35M387.5,276v-1.35M387.5,275v-1.35M388.5,280v-1.35M389.5,280v-1.35M391.5,278v-1.35M391.5,277v-1.35M391.5,275v-1.35M391.5,274v-1.35M391.5,272v-1.35M391.5,270v-1.35M391.5,268v-1.35M391.5,266v-1.35M391.5,264v-1.35M391.5,261v-1.35M391.5,258v-1.35M391.5,255v-1.35M391.5,252v-1.35M391.5,249v-1.35M391.5,245v-1.35M391.5,241v-1.35M392.5,280v-1.35M392.5,278v-1.35M392.5,277v-1.35M392.5,275v-1.35M392.5,273v-1.35M394.5,279v-1.35M394.5,278v-1.35M396.5,279v-1.35M396.5,277v-1.35M396.5,276v-1.35M397.5,278v-1.35M397.5,276v-1.35M397.5,275v-1.35M397.5,273v-1.35M397.5,271v-1.35M397.5,269v-1.35M398.5,280v-1.35M398.5,278v-1.35M398.5,277v-1.35M399.5,280v-1.35M399.5,279v-1.35M400.5,282v-1.35M400.5,280v-1.35M400.5,279v-1.35M400.5,277v-1.35M401.5,284v-1.35M401.5,283v-1.35M401.5,281v-1.35M402.5,282v-1.35M402.5,281v-1.35M445.5,280v-1.35M445.5,278v-1.35M445.5,277v-1.35M445.5,275v-1.35M447.5,280v-1.35M447.5,278v-1.35M447.5,277v-1.35M447.5,275v-1.35M447.5,273v-1.35M447.5,272v-1.35M448.5,276v-1.35M448.5,275v-1.35M448.5,273v-1.35M448.5,272v-1.35M448.5,270v-1.35M448.5,268v-1.35M448.5,266v-1.35M448.5,264v-1.35M448.5,262v-1.35M448.5,259v-1.35M448.5,256v-1.35M448.5,253v-1.35M448.5,250v-1.35M448.5,247v-1.35M448.5,243v-1.35M448.5,239v-1.35M449.5,279v-1.35M451.5,286v-1.35M486.5,285v-1.35M487.5,286v-1.35M488.5,284v-1.35M489.5,283v-1.35M489.5,282v-1.35M490.5,282v-1.35M490.5,281v-1.35M490.5,279v-1.35M490.5,278v-1.35M491.5,284v-1.35M493.5,282v-1.35M494.5,280v-1.35M496.5,275v-1.35M496.5,273v-1.35M496.5,272v-1.35M496.5,270v-1.35M496.5,268v-1.35M496.5,266v-1.35M496.5,264v-1.35M496.5,262v-1.35M498.5,275v-1.35M498.5,273v-1.35M501.5,279v-1.35M501.5,277v-1.35M502.5,283v-1.35M502.5,282v-1.35M502.5,280v-1.35M502.5,279v-1.35M533.5,275v-1.35M533.5,274v-1.35M533.5,272v-1.35M533.5,271v-1.35M534.5,275v-1.35M534.5,274v-1.35M534.5,272v-1.35M534.5,270v-1.35M534.5,269v-1.35M535.5,273v-1.35M535.5,272v-1.35M535.5,270v-1.35M536.5,275v-1.35M536.5,274v-1.35M537.5,277v-1.35M537.5,275v-1.35M537.5,274v-1.35M537.5,272v-1.35M537.5,270v-1.35M537.5,268v-1.35M537.5,266v-1.35M538.5,279v-1.35M538.5,278v-1.35M538.5,277v-1.35M538.5,275v-1.35M538.5,273v-1.35M538.5,271v-1.35" stroke="#0a0afc" stroke-width="1.25" fill="none"/>
<path d="" stroke="#26962a" stroke-width="1.28" stroke-linecap="round" fill="none"/>
<path d="M348.5,281v-1.35M348.5,280v-1.35M349.5,277v-1.35M349.5,276v-1.35M350.5,276v-1.35M350.5,274v-1.35M352.5,277v-1.35M352.5,276v-1.35M352.5,274v-1.35M354.5,280v-1.35M355.5,283v-1.35M355.5,282v-1.35M356.5,282v-1.35M356.5,280v-1.35M357.5,281v-1.35M357.5,280v-1.35M357.5,278v-1.35M357.5,277v-1.35M358.5,279v-1.35M358.5,278v-1.35M358.5,276v-1.35M358.5,274v-1.35M358.5,272v-1.35M358.5,270v-1.35M358.5,268v-1.35M360.5,278v-1.35M360.5,277v-1.35M360.5,275v-1.35M360.5,274v-1.35M405.5,284v-1.35M405.5,282v-1.35M407.5,280v-1.35M407.5,279v-1.35M407.5,278v-1.35M407.5,276v-1.35M407.5,274v-1.35M407.5,272v-1.35M407.5,270v-1.35M407.5,268v-1.35M407.5,266v-1.35M407.5,263v-1.35M409.5,284v-1.35M409.5,283v-1.35M409.5,281v-1.35M410.5,285v-1.35M412.5,284v-1.35M414.5,278v-1.35M414.5,277v-1.35M414.5,276v-1.35M414.5,274v-1.35M414.5,272v-1.35M414.5,270v-1.35M414.5,268v-1.35M414.5,266v-1.35M414.5,264v-1.35M414.5,261v-1.35M414.5,258v-1.35M414.5,255v-1.35M414.5,252v-1.35M415.5,279v-1.35M415.5,277v-1.35M415.5,276v-1.35M415.5,274v-1.35M415.5,272v-1.35M415.5,271v-1.35M415.5,268v-1.35M415.5,266v-1.35M415.5,264v-1.35M452.5,283v-1.35M453.5,282v-1.35M453.5,281v-1.35M453.5,279v-1.35M454.5,280v-1.35M454.5,279v-1.35M454.5,277v-1.35M456.5,283v-1.35M458.5,280v-1.35M458.5,279v-1.35M458.5,277v-1.35M458.5,275v-1.35M458.5,274v-1.35M459.5,281v-1.35M459.5,279v-1.35M459.5,278v-1.35M459.5,276v-1.35M459.5,274v-1.35M459.5,272v-1.35M459.5,270v-1.35M459.5,268v-1.35M459.5,266v-1.35M504.5,282v-1.35M505.5,284v-1.35M505.5,283v-1.35M505.5,281v-1.35M505.5,279v-1.35M505.5,278v-1.35M507.5,286v-1.35M510.5,281v-1.35M510.5,280v-1.35M510.5,278v-1.35M510.5,277v-1.35M510.5,275v-1.35M510.5,273v-1.35M510.5,271v-1.35M510.5,269v-1.35M510.5,266v-1.35M512.5,284v-1.35M512.5,283v-1.35M512.5,281v-1.35M512.5,280v-1.35M515.5,282v-1.35" stroke="#26962a" stroke-width="1.25" fill="none"/>
<path d="M430.5,182.5h0M430.5,186.5h0M430.5,188.5h0M430.5,190.5h0M430.5,192.5h0M430.5,193.5h0M430.5,195.5h0M430.5,197.5h0M430.5,199.5h0M430.5,210.5h0M430.5,221.5h0M430.5,231.5h0M430.5,236.5h0M462.5,235.5h0" stroke="#ca8e10" stroke-width="1.28" stroke-linecap="round" fill="none"/>
<path d="M361.5,286v-1.35M361.5,285v-1.35M362.5,287v-1.35M363.5,285v-1.35M364.5,284v-1.35M366.5,284v-1.35M366.5,283v-1.35M367.5,285v-1.35M367.5,284v-1.35M367.5,282v-1.35M368.5,285v-1.35M368.5,284v-1.35M370.5,277v-1.35M370.5,276v-1.35M370.5,274v-1.35M370.5,272v-1.35M370.5,270v-1.35M370.5,268v-1.35M370.5,266v-1.35M370.5,264v-1.35M371.5,277v-1.35M371.5,276v-1.35M371.5,274v-1.35M371.5,273v-1.35M371.5,271v-1.35M371.5,269v-1.35M371.5,267v-1.35M371.5,265v-1.35M371.5,263v-1.35M371.5,260v-1.35M371.5,258v-1.35M371.5,255v-1.35M372.5,275v-1.35M372.5,274v-1.35M372.5,272v-1.35M372.5,271v-1.35M372.5,269v-1.35M372.5,267v-1.35M372.5,265v-1.35M373.5,276v-1.35M373.5,275v-1.35M373.5,273v-1.35M373.5,271v-1.35M373.5,270v-1.35M373.5,268v-1.35M373.5,265v-1.35M374.5,276v-1.35M374.5,274v-1.35M375.5,274v-1.35M375.5,273v-1.35M375.5,271v-1.35M375.5,270v-1.35M375.5,268v-1.35M375.5,266v-1.35M375.5,264v-1.35M375.5,262v-1.35M375.5,259v-1.35M376.5,277v-1.35M376.5,276v-1.35M376.5,274v-1.35M376.5,272v-1.35M376.5,270v-1.35M376.5,268v-1.35M376.5,266v-1.35M376.5,264v-1.35M376.5,262v-1.35M376.5,259v-1.35M376.5,257v-1.35M376.5,254v-1.35M376.5,251v-1.35M418.5,284v-1.35M419.5,284v-1.35M419.5,283v-1.35M419.5,281v-1.35M419.5,279v-1.35M419.5,277v-1.35M419.5,275v-1.35M420.5,283v-1.35M420.5,282v-1.35M420.5,281v-1.35M420.5,279v-1.35M420.5,277v-1.35M420.5,275v-1.35M420.5,273v-1.35M420.5,271v-1.35M420.5,269v-1.35M422.5,285v-1.35M423.5,286v-1.35M424.5,287v-1.35M425.5,286v-1.35M426.5,287v-1.35M427.5,287v-1.35M427.5,286v-1.35M428.5,285v-1.35M428.5,283v-1.35M429.5,280v-1.35M429.5,279v-1.35M429.5,277v-1.35M429.5,275v-1.35M429.5,273v-1.35M429.5,271v-1.35M429.5,269v-1.35M429.5,267v-1.35M429.5,265v-1.35M429.5,262v-1.35M429.5,259v-1.35M429.5,256v-1.35M430.5,275v-1.35M430.5,273v-1.35M430.5,271v-1.35M430.5,270v-1.35M430.5,268v-1.35M430.5,266v-1.35M430.5,264v-1.35M430.5,262v-1.35M430.5,259v-1.35M430.5,257v-1.35M430.5,254v-1.35M430.5,251v-1.35M430.5,247v-1.35M430.5,244v-1.35M430.5,239v-1.35M461.5,274v-1.35M461.5,272v-1.35M461.5,271v-1.35M461.5,269v-1.35M461.5,267v-1.35M461.5,265v-1.35M461.5,264v-1.35M461.5,262v-1.35M461.5,259v-1.35M461.5,257v-1.35M461.5,254v-1.35M462.5,276v-1.35M462.5,275v-1.35M462.5,273v-1.35M462.5,272v-1.35M462.5,270v-1.35M462.5,268v-1.35M462.5,266v-1.35M462.5,264v-1.35M462.5,261v-1.35M462.5,258v-1.35M462.5,255v-1.35M462.5,252v-1.35M462.5,249v-1.35M462.5,245v-1.35M462.5,241v-1.35M463.5,281v-1.35M463.5,279v-1.35M463.5,278v-1.35M463.5,276v-1.35M463.5,274v-1.35M463.5,272v-1.35M463.5,270v-1.35M463.5,268v-1.35M464.5,280v-1.35M464.5,279v-1.35M464.5,278v-1.35M464.5,276v-1.35M464.5,274v-1.35M466.5,282v-1.35M466.5,281v-1.35M466.5,280v-1.35M468.5,280v-1.35M468.5,279v-1.35M468.5,277v-1.35M468.5,276v-1.35M468.5,274v-1.35M468.5,272v-1.35M468.5,270v-1.35M468.5,268v-1.35M468.5,266v-1.35M468.5,263v-1.35M468.5,261v-1.35M468.5,258v-1.35M516.5,280v-1.35M516.5,278v-1.35M517.5,279v-1.35M519.5,278v-1.35M519.5,276v-1.35M519.5,275v-1.35M519.5,273v-1.35M519.5,271v-1.35M519.5,269v-1.35M519.5,267v-1.35M519.5,265v-1.35M521.5,277v-1.35M522.5,279v-1.35M522.5,278v-1.35M522.5,276v-1.35M523.5,280v-1.35M523.5,278v-1.35M524.5,280v-1.35M524.5,278v-1.35M524.5,276v-1.35" stroke="#ca8e10" stroke-width="1.25" fill="none"/>
<line x1="298.4" y1="243.8" x2="547.2" y2="243.8" stroke="#ffaab0" stroke-width="1.7"/>
<rect x="298.4" y="178.9" width="248.8" height="118.55" fill="none" stroke="#a2a2a2" stroke-width="0.9"/>
<text transform="translate(292.9,293.3) rotate(-90) scale(.1)" text-anchor="middle" class="t">0.0</text>
<text transform="translate(292.9,268.4) rotate(-90) scale(.1)" text-anchor="middle" class="t">0.2</text>
<text transform="translate(292.9,243.6) rotate(-90) scale(.1)" text-anchor="middle" class="t">0.4</text>
<text transform="translate(292.9,218.8) rotate(-90) scale(.1)" text-anchor="middle" class="t">0.6</text>
<text transform="translate(292.9,193.9) rotate(-90) scale(.1)" text-anchor="middle" class="t">0.8</text>
<path d="M298.4,293.3h-2.4M298.4,268.4h-2.4M298.4,243.6h-2.4M298.4,218.8h-2.4M298.4,193.9h-2.4M298.4,193.9V293.3" stroke="#707070" stroke-width="0.6" fill="none"/>
<text transform="translate(320.4,306.1) scale(.1)" text-anchor="middle" class="t">1</text>
<text transform="translate(340.9,306.1) scale(.1)" text-anchor="middle" class="t">2</text>
<text transform="translate(354.6,306.1) scale(.1)" text-anchor="middle" class="t">3</text>
<text transform="translate(369,306.1) scale(.1)" text-anchor="middle" class="t">4</text>
<text transform="translate(381.8,306.1) scale(.1)" text-anchor="middle" class="t">5</text>
<text transform="translate(395.3,306.1) scale(.1)" text-anchor="middle" class="t">6</text>
<text transform="translate(411.1,306.1) scale(.1)" text-anchor="middle" class="t">7</text>
<text transform="translate(424.8,306.1) scale(.1)" text-anchor="middle" class="t">8</text>
<text transform="translate(438.2,306.1) scale(.1)" text-anchor="middle" class="t">9</text>
<text transform="translate(448.5,306.1) scale(.1)" text-anchor="middle" class="t">10</text>
<text transform="translate(456.8,306.1) scale(.1)" text-anchor="middle" class="t">11</text>
<text transform="translate(465,306.1) scale(.1)" text-anchor="middle" class="t">12</text>
<text transform="translate(477.4,306.1) scale(.1)" text-anchor="middle" class="t">13</text>
<text transform="translate(494.6,306.1) scale(.1)" text-anchor="middle" class="t">14</text>
<text transform="translate(509.5,306.1) scale(.1)" text-anchor="middle" class="t">15</text>
<text transform="translate(520.3,306.1) scale(.1)" text-anchor="middle" class="t">16</text>
<text transform="translate(528.3,306.1) scale(.1)" text-anchor="middle" class="t">17</text>
<path d="M320.4,297.45v2.4M340.9,297.45v2.4M354.6,297.45v2.4M369,297.45v2.4M381.8,297.45v2.4M395.3,297.45v2.4M411.1,297.45v2.4M424.8,297.45v2.4M438.2,297.45v2.4M448.5,297.45v2.4M456.8,297.45v2.4M465,297.45v2.4M477.4,297.45v2.4M494.6,297.45v2.4M509.5,297.45v2.4M520.3,297.45v2.4M528.3,297.45v2.4M534.8,297.45v2.4M320.4,297.45H534.8" stroke="#8c8c8c" stroke-width="0.55" fill="none"/>
<text transform="translate(422.5,314.9) scale(.1)" text-anchor="middle" class="t">Chromosome</text>
<text transform="translate(283.1,238.2) rotate(-90) scale(.1)" text-anchor="middle" class="t">SNPvar (%)</text>
<text transform="translate(286.6,170.6) scale(.1)" class="pl">(d)</text>
</g>
</svg>
</body></html>
